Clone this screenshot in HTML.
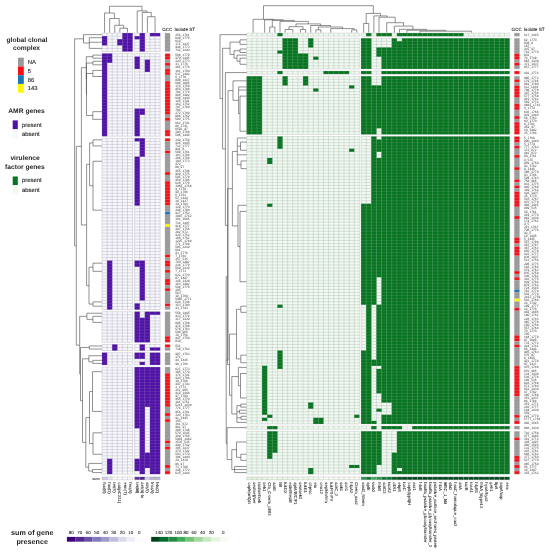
<!DOCTYPE html>
<html><head><meta charset="utf-8"><title>AMR and virulence factor gene heatmaps</title>
<style>html,body{margin:0;padding:0;background:#fff;}svg{display:block;filter:blur(0.3px);}</style></head>
<body>
<svg width="550" height="559" viewBox="0 0 550 559">
<style>
text{font-family:"Liberation Sans",Arial,Helvetica,sans-serif;text-rendering:geometricPrecision;}
.rl{font-size:32.5px;fill:#3c3c3c;}
.cl{font-size:42px;fill:#2a2a2a;stroke:#2a2a2a;stroke-width:0.5px;}
.hd{font-size:46px;fill:#222;stroke:#222;stroke-width:0.9px;}
.lt{font-size:67px;font-weight:bold;fill:#1e1e1e;text-anchor:middle;}
.li{font-size:59px;fill:#262626;stroke:#262626;stroke-width:1.2px;}
.sc{font-size:45px;fill:#2a2a2a;stroke:#2a2a2a;stroke-width:0.8px;text-anchor:middle;}
.dn{stroke:#484848;stroke-width:0.6;fill:none;}
</style>
<rect width="550" height="559" fill="#ffffff"/>
<rect x="102" y="33.1" width="30.6" height="18.35" fill="#f8f7fd"/>
<rect x="102" y="53.6" width="30.6" height="82.57" fill="#f8f7fd"/>
<rect x="102" y="138.31" width="30.6" height="171.25" fill="#f8f7fd"/>
<rect x="102" y="311.71" width="30.6" height="30.58" fill="#f8f7fd"/>
<rect x="102" y="344.44" width="30.6" height="6.12" fill="#f8f7fd"/>
<rect x="102" y="352.71" width="30.6" height="12.23" fill="#f8f7fd"/>
<rect x="102" y="367.09" width="30.6" height="107.03" fill="#f8f7fd"/>
<rect x="134.65" y="33.1" width="25.5" height="18.35" fill="#f8f7fd"/>
<rect x="134.65" y="53.6" width="25.5" height="82.57" fill="#f8f7fd"/>
<rect x="134.65" y="138.31" width="25.5" height="171.25" fill="#f8f7fd"/>
<rect x="134.65" y="311.71" width="25.5" height="30.58" fill="#f8f7fd"/>
<rect x="134.65" y="344.44" width="25.5" height="6.12" fill="#f8f7fd"/>
<rect x="134.65" y="352.71" width="25.5" height="12.23" fill="#f8f7fd"/>
<rect x="134.65" y="367.09" width="25.5" height="107.03" fill="#f8f7fd"/>
<rect x="102" y="36.16" width="5.1" height="9.17" fill="#5010a8"/>
<rect x="102" y="53.6" width="5.1" height="82.57" fill="#5010a8"/>
<rect x="102" y="352.71" width="5.1" height="12.23" fill="#5010a8"/>
<rect x="107.1" y="53.6" width="5.1" height="9.17" fill="#5010a8"/>
<rect x="107.1" y="260.63" width="5.1" height="48.93" fill="#5010a8"/>
<rect x="107.1" y="458.83" width="5.1" height="15.29" fill="#5010a8"/>
<rect x="112.2" y="344.44" width="5.1" height="6.12" fill="#5010a8"/>
<rect x="117.3" y="39.22" width="5.1" height="6.12" fill="#5010a8"/>
<rect x="122.4" y="33.1" width="5.1" height="18.35" fill="#5010a8"/>
<rect x="127.5" y="33.1" width="5.1" height="18.35" fill="#5010a8"/>
<rect x="134.65" y="36.16" width="5.1" height="3.06" fill="#5010a8"/>
<rect x="134.65" y="56.66" width="5.1" height="12.23" fill="#5010a8"/>
<rect x="134.65" y="108.64" width="5.1" height="27.52" fill="#5010a8"/>
<rect x="134.65" y="138.31" width="5.1" height="3.06" fill="#5010a8"/>
<rect x="134.65" y="156.66" width="5.1" height="48.93" fill="#5010a8"/>
<rect x="134.65" y="260.63" width="5.1" height="6.12" fill="#5010a8"/>
<rect x="134.65" y="303.45" width="5.1" height="6.12" fill="#5010a8"/>
<rect x="134.65" y="311.71" width="5.1" height="30.58" fill="#5010a8"/>
<rect x="134.65" y="352.71" width="5.1" height="6.12" fill="#5010a8"/>
<rect x="134.65" y="367.09" width="5.1" height="61.16" fill="#5010a8"/>
<rect x="134.65" y="458.83" width="5.1" height="12.23" fill="#5010a8"/>
<rect x="139.75" y="33.1" width="5.1" height="18.35" fill="#5010a8"/>
<rect x="139.75" y="108.64" width="5.1" height="6.12" fill="#5010a8"/>
<rect x="139.75" y="138.31" width="5.1" height="18.35" fill="#5010a8"/>
<rect x="139.75" y="260.63" width="5.1" height="39.75" fill="#5010a8"/>
<rect x="139.75" y="317.83" width="5.1" height="24.46" fill="#5010a8"/>
<rect x="139.75" y="344.44" width="5.1" height="6.12" fill="#5010a8"/>
<rect x="139.75" y="352.71" width="5.1" height="6.12" fill="#5010a8"/>
<rect x="139.75" y="361.88" width="5.1" height="3.06" fill="#5010a8"/>
<rect x="139.75" y="367.09" width="5.1" height="107.03" fill="#5010a8"/>
<rect x="144.85" y="59.71" width="5.1" height="12.23" fill="#5010a8"/>
<rect x="144.85" y="311.71" width="5.1" height="30.58" fill="#5010a8"/>
<rect x="144.85" y="367.09" width="5.1" height="39.75" fill="#5010a8"/>
<rect x="144.85" y="452.71" width="5.1" height="15.29" fill="#5010a8"/>
<rect x="149.95" y="33.1" width="5.1" height="3.06" fill="#5010a8"/>
<rect x="149.95" y="311.71" width="5.1" height="3.06" fill="#5010a8"/>
<rect x="149.95" y="347.5" width="5.1" height="3.06" fill="#5010a8"/>
<rect x="149.95" y="352.71" width="5.1" height="12.23" fill="#5010a8"/>
<rect x="149.95" y="367.09" width="5.1" height="107.03" fill="#5010a8"/>
<rect x="155.05" y="33.1" width="5.1" height="3.06" fill="#5010a8"/>
<rect x="155.05" y="311.71" width="5.1" height="3.06" fill="#5010a8"/>
<rect x="155.05" y="347.5" width="5.1" height="3.06" fill="#5010a8"/>
<rect x="155.05" y="352.71" width="5.1" height="12.23" fill="#5010a8"/>
<rect x="155.05" y="367.09" width="5.1" height="107.03" fill="#5010a8"/>
<path d="M102 33.1V51.45M107.1 33.1V51.45M112.2 33.1V51.45M117.3 33.1V51.45M122.4 33.1V51.45M127.5 33.1V51.45M132.6 33.1V51.45M102 33.1H132.6M102 36.16H132.6M102 39.22H132.6M102 42.27H132.6M102 45.33H132.6M102 48.39H132.6M102 51.45H132.6M102 53.6V136.16M107.1 53.6V136.16M112.2 53.6V136.16M117.3 53.6V136.16M122.4 53.6V136.16M127.5 53.6V136.16M132.6 53.6V136.16M102 53.6H132.6M102 56.66H132.6M102 59.71H132.6M102 62.77H132.6M102 65.83H132.6M102 68.89H132.6M102 71.95H132.6M102 75H132.6M102 78.06H132.6M102 81.12H132.6M102 84.18H132.6M102 87.24H132.6M102 90.29H132.6M102 93.35H132.6M102 96.41H132.6M102 99.47H132.6M102 102.53H132.6M102 105.58H132.6M102 108.64H132.6M102 111.7H132.6M102 114.76H132.6M102 117.82H132.6M102 120.87H132.6M102 123.93H132.6M102 126.99H132.6M102 130.05H132.6M102 133.11H132.6M102 136.16H132.6M102 138.31V309.56M107.1 138.31V309.56M112.2 138.31V309.56M117.3 138.31V309.56M122.4 138.31V309.56M127.5 138.31V309.56M132.6 138.31V309.56M102 138.31H132.6M102 141.37H132.6M102 144.43H132.6M102 147.49H132.6M102 150.55H132.6M102 153.6H132.6M102 156.66H132.6M102 159.72H132.6M102 162.78H132.6M102 165.84H132.6M102 168.89H132.6M102 171.95H132.6M102 175.01H132.6M102 178.07H132.6M102 181.13H132.6M102 184.18H132.6M102 187.24H132.6M102 190.3H132.6M102 193.36H132.6M102 196.42H132.6M102 199.47H132.6M102 202.53H132.6M102 205.59H132.6M102 208.65H132.6M102 211.71H132.6M102 214.76H132.6M102 217.82H132.6M102 220.88H132.6M102 223.94H132.6M102 227H132.6M102 230.05H132.6M102 233.11H132.6M102 236.17H132.6M102 239.23H132.6M102 242.29H132.6M102 245.34H132.6M102 248.4H132.6M102 251.46H132.6M102 254.52H132.6M102 257.58H132.6M102 260.63H132.6M102 263.69H132.6M102 266.75H132.6M102 269.81H132.6M102 272.87H132.6M102 275.92H132.6M102 278.98H132.6M102 282.04H132.6M102 285.1H132.6M102 288.16H132.6M102 291.21H132.6M102 294.27H132.6M102 297.33H132.6M102 300.39H132.6M102 303.45H132.6M102 306.5H132.6M102 309.56H132.6M102 311.71V342.29M107.1 311.71V342.29M112.2 311.71V342.29M117.3 311.71V342.29M122.4 311.71V342.29M127.5 311.71V342.29M132.6 311.71V342.29M102 311.71H132.6M102 314.77H132.6M102 317.83H132.6M102 320.89H132.6M102 323.94H132.6M102 327H132.6M102 330.06H132.6M102 333.12H132.6M102 336.18H132.6M102 339.23H132.6M102 342.29H132.6M102 344.44V350.56M107.1 344.44V350.56M112.2 344.44V350.56M117.3 344.44V350.56M122.4 344.44V350.56M127.5 344.44V350.56M132.6 344.44V350.56M102 344.44H132.6M102 347.5H132.6M102 350.56H132.6M102 352.71V364.94M107.1 352.71V364.94M112.2 352.71V364.94M117.3 352.71V364.94M122.4 352.71V364.94M127.5 352.71V364.94M132.6 352.71V364.94M102 352.71H132.6M102 355.77H132.6M102 358.82H132.6M102 361.88H132.6M102 364.94H132.6M102 367.09V474.12M107.1 367.09V474.12M112.2 367.09V474.12M117.3 367.09V474.12M122.4 367.09V474.12M127.5 367.09V474.12M132.6 367.09V474.12M102 367.09H132.6M102 370.15H132.6M102 373.21H132.6M102 376.26H132.6M102 379.32H132.6M102 382.38H132.6M102 385.44H132.6M102 388.5H132.6M102 391.55H132.6M102 394.61H132.6M102 397.67H132.6M102 400.73H132.6M102 403.79H132.6M102 406.84H132.6M102 409.9H132.6M102 412.96H132.6M102 416.02H132.6M102 419.08H132.6M102 422.13H132.6M102 425.19H132.6M102 428.25H132.6M102 431.31H132.6M102 434.37H132.6M102 437.42H132.6M102 440.48H132.6M102 443.54H132.6M102 446.6H132.6M102 449.66H132.6M102 452.71H132.6M102 455.77H132.6M102 458.83H132.6M102 461.89H132.6M102 464.95H132.6M102 468H132.6M102 471.06H132.6M102 474.12H132.6M134.65 33.1V51.45M139.75 33.1V51.45M144.85 33.1V51.45M149.95 33.1V51.45M155.05 33.1V51.45M160.15 33.1V51.45M134.65 33.1H160.15M134.65 36.16H160.15M134.65 39.22H160.15M134.65 42.27H160.15M134.65 45.33H160.15M134.65 48.39H160.15M134.65 51.45H160.15M134.65 53.6V136.16M139.75 53.6V136.16M144.85 53.6V136.16M149.95 53.6V136.16M155.05 53.6V136.16M160.15 53.6V136.16M134.65 53.6H160.15M134.65 56.66H160.15M134.65 59.71H160.15M134.65 62.77H160.15M134.65 65.83H160.15M134.65 68.89H160.15M134.65 71.95H160.15M134.65 75H160.15M134.65 78.06H160.15M134.65 81.12H160.15M134.65 84.18H160.15M134.65 87.24H160.15M134.65 90.29H160.15M134.65 93.35H160.15M134.65 96.41H160.15M134.65 99.47H160.15M134.65 102.53H160.15M134.65 105.58H160.15M134.65 108.64H160.15M134.65 111.7H160.15M134.65 114.76H160.15M134.65 117.82H160.15M134.65 120.87H160.15M134.65 123.93H160.15M134.65 126.99H160.15M134.65 130.05H160.15M134.65 133.11H160.15M134.65 136.16H160.15M134.65 138.31V309.56M139.75 138.31V309.56M144.85 138.31V309.56M149.95 138.31V309.56M155.05 138.31V309.56M160.15 138.31V309.56M134.65 138.31H160.15M134.65 141.37H160.15M134.65 144.43H160.15M134.65 147.49H160.15M134.65 150.55H160.15M134.65 153.6H160.15M134.65 156.66H160.15M134.65 159.72H160.15M134.65 162.78H160.15M134.65 165.84H160.15M134.65 168.89H160.15M134.65 171.95H160.15M134.65 175.01H160.15M134.65 178.07H160.15M134.65 181.13H160.15M134.65 184.18H160.15M134.65 187.24H160.15M134.65 190.3H160.15M134.65 193.36H160.15M134.65 196.42H160.15M134.65 199.47H160.15M134.65 202.53H160.15M134.65 205.59H160.15M134.65 208.65H160.15M134.65 211.71H160.15M134.65 214.76H160.15M134.65 217.82H160.15M134.65 220.88H160.15M134.65 223.94H160.15M134.65 227H160.15M134.65 230.05H160.15M134.65 233.11H160.15M134.65 236.17H160.15M134.65 239.23H160.15M134.65 242.29H160.15M134.65 245.34H160.15M134.65 248.4H160.15M134.65 251.46H160.15M134.65 254.52H160.15M134.65 257.58H160.15M134.65 260.63H160.15M134.65 263.69H160.15M134.65 266.75H160.15M134.65 269.81H160.15M134.65 272.87H160.15M134.65 275.92H160.15M134.65 278.98H160.15M134.65 282.04H160.15M134.65 285.1H160.15M134.65 288.16H160.15M134.65 291.21H160.15M134.65 294.27H160.15M134.65 297.33H160.15M134.65 300.39H160.15M134.65 303.45H160.15M134.65 306.5H160.15M134.65 309.56H160.15M134.65 311.71V342.29M139.75 311.71V342.29M144.85 311.71V342.29M149.95 311.71V342.29M155.05 311.71V342.29M160.15 311.71V342.29M134.65 311.71H160.15M134.65 314.77H160.15M134.65 317.83H160.15M134.65 320.89H160.15M134.65 323.94H160.15M134.65 327H160.15M134.65 330.06H160.15M134.65 333.12H160.15M134.65 336.18H160.15M134.65 339.23H160.15M134.65 342.29H160.15M134.65 344.44V350.56M139.75 344.44V350.56M144.85 344.44V350.56M149.95 344.44V350.56M155.05 344.44V350.56M160.15 344.44V350.56M134.65 344.44H160.15M134.65 347.5H160.15M134.65 350.56H160.15M134.65 352.71V364.94M139.75 352.71V364.94M144.85 352.71V364.94M149.95 352.71V364.94M155.05 352.71V364.94M160.15 352.71V364.94M134.65 352.71H160.15M134.65 355.77H160.15M134.65 358.82H160.15M134.65 361.88H160.15M134.65 364.94H160.15M134.65 367.09V474.12M139.75 367.09V474.12M144.85 367.09V474.12M149.95 367.09V474.12M155.05 367.09V474.12M160.15 367.09V474.12M134.65 367.09H160.15M134.65 370.15H160.15M134.65 373.21H160.15M134.65 376.26H160.15M134.65 379.32H160.15M134.65 382.38H160.15M134.65 385.44H160.15M134.65 388.5H160.15M134.65 391.55H160.15M134.65 394.61H160.15M134.65 397.67H160.15M134.65 400.73H160.15M134.65 403.79H160.15M134.65 406.84H160.15M134.65 409.9H160.15M134.65 412.96H160.15M134.65 416.02H160.15M134.65 419.08H160.15M134.65 422.13H160.15M134.65 425.19H160.15M134.65 428.25H160.15M134.65 431.31H160.15M134.65 434.37H160.15M134.65 437.42H160.15M134.65 440.48H160.15M134.65 443.54H160.15M134.65 446.6H160.15M134.65 449.66H160.15M134.65 452.71H160.15M134.65 455.77H160.15M134.65 458.83H160.15M134.65 461.89H160.15M134.65 464.95H160.15M134.65 468H160.15M134.65 471.06H160.15M134.65 474.12H160.15" stroke="#9b9aa8" stroke-width="0.33" fill="none"/>
<path d="M102 36.16h5.1v9.17h-5.1zM102 53.6h5.1v82.57h-5.1zM102 352.71h5.1v12.23h-5.1zM107.1 53.6h5.1v9.17h-5.1zM107.1 260.63h5.1v48.93h-5.1zM107.1 458.83h5.1v15.29h-5.1zM112.2 344.44h5.1v6.12h-5.1zM117.3 39.22h5.1v6.12h-5.1zM122.4 33.1h5.1v18.35h-5.1zM127.5 33.1h5.1v18.35h-5.1zM134.65 36.16h5.1v3.06h-5.1zM134.65 56.66h5.1v12.23h-5.1zM134.65 108.64h5.1v27.52h-5.1zM134.65 138.31h5.1v3.06h-5.1zM134.65 156.66h5.1v48.93h-5.1zM134.65 260.63h5.1v6.12h-5.1zM134.65 303.45h5.1v6.12h-5.1zM134.65 311.71h5.1v30.58h-5.1zM134.65 352.71h5.1v6.12h-5.1zM134.65 367.09h5.1v61.16h-5.1zM134.65 458.83h5.1v12.23h-5.1zM139.75 33.1h5.1v18.35h-5.1zM139.75 108.64h5.1v6.12h-5.1zM139.75 138.31h5.1v18.35h-5.1zM139.75 260.63h5.1v39.75h-5.1zM139.75 317.83h5.1v24.46h-5.1zM139.75 344.44h5.1v6.12h-5.1zM139.75 352.71h5.1v6.12h-5.1zM139.75 361.88h5.1v3.06h-5.1zM139.75 367.09h5.1v107.03h-5.1zM144.85 59.71h5.1v12.23h-5.1zM144.85 311.71h5.1v30.58h-5.1zM144.85 367.09h5.1v39.75h-5.1zM144.85 452.71h5.1v15.29h-5.1zM149.95 33.1h5.1v3.06h-5.1zM149.95 311.71h5.1v3.06h-5.1zM149.95 347.5h5.1v3.06h-5.1zM149.95 352.71h5.1v12.23h-5.1zM149.95 367.09h5.1v107.03h-5.1zM155.05 33.1h5.1v3.06h-5.1zM155.05 311.71h5.1v3.06h-5.1zM155.05 347.5h5.1v3.06h-5.1zM155.05 352.71h5.1v12.23h-5.1zM155.05 367.09h5.1v107.03h-5.1z" fill="#5010a8" fill-opacity="0.4"/>
<rect x="165" y="33.1" width="5.1" height="18.35" fill="#999999"/>
<rect x="165" y="53.6" width="5.1" height="6.12" fill="#fb0d12"/>
<rect x="165" y="59.71" width="5.1" height="3.06" fill="#999999"/>
<rect x="165" y="62.77" width="5.1" height="3.06" fill="#fb0d12"/>
<rect x="165" y="65.83" width="5.1" height="3.06" fill="#999999"/>
<rect x="165" y="68.89" width="5.1" height="6.12" fill="#fb0d12"/>
<rect x="165" y="75" width="5.1" height="6.12" fill="#999999"/>
<rect x="165" y="81.12" width="5.1" height="33.64" fill="#fb0d12"/>
<rect x="165" y="114.76" width="5.1" height="3.06" fill="#999999"/>
<rect x="165" y="117.82" width="5.1" height="3.06" fill="#fb0d12"/>
<rect x="165" y="120.87" width="5.1" height="9.17" fill="#999999"/>
<rect x="165" y="130.05" width="5.1" height="6.12" fill="#fb0d12"/>
<rect x="165" y="138.31" width="5.1" height="3.06" fill="#fb0d12"/>
<rect x="165" y="141.37" width="5.1" height="9.17" fill="#999999"/>
<rect x="165" y="150.55" width="5.1" height="3.06" fill="#fb0d12"/>
<rect x="165" y="153.6" width="5.1" height="18.35" fill="#999999"/>
<rect x="165" y="171.95" width="5.1" height="3.06" fill="#fb0d12"/>
<rect x="165" y="175.01" width="5.1" height="6.12" fill="#999999"/>
<rect x="165" y="181.13" width="5.1" height="24.46" fill="#fb0d12"/>
<rect x="165" y="205.59" width="5.1" height="6.12" fill="#999999"/>
<rect x="165" y="211.71" width="5.1" height="3.06" fill="#1b76ba"/>
<rect x="165" y="214.76" width="5.1" height="9.17" fill="#999999"/>
<rect x="165" y="223.94" width="5.1" height="3.06" fill="#fbf60a"/>
<rect x="165" y="227" width="5.1" height="27.52" fill="#999999"/>
<rect x="165" y="254.52" width="5.1" height="3.06" fill="#fb0d12"/>
<rect x="165" y="257.58" width="5.1" height="3.06" fill="#999999"/>
<rect x="165" y="260.63" width="5.1" height="6.12" fill="#fb0d12"/>
<rect x="165" y="266.75" width="5.1" height="3.06" fill="#999999"/>
<rect x="165" y="269.81" width="5.1" height="3.06" fill="#fb0d12"/>
<rect x="165" y="272.87" width="5.1" height="6.12" fill="#999999"/>
<rect x="165" y="278.98" width="5.1" height="6.12" fill="#fb0d12"/>
<rect x="165" y="285.1" width="5.1" height="3.06" fill="#999999"/>
<rect x="165" y="288.16" width="5.1" height="3.06" fill="#fb0d12"/>
<rect x="165" y="291.21" width="5.1" height="12.23" fill="#999999"/>
<rect x="165" y="303.45" width="5.1" height="3.06" fill="#fb0d12"/>
<rect x="165" y="306.5" width="5.1" height="3.06" fill="#999999"/>
<rect x="165" y="311.71" width="5.1" height="24.46" fill="#999999"/>
<rect x="165" y="336.18" width="5.1" height="6.12" fill="#fb0d12"/>
<rect x="165" y="344.44" width="5.1" height="3.06" fill="#fb0d12"/>
<rect x="165" y="347.5" width="5.1" height="3.06" fill="#999999"/>
<rect x="165" y="352.71" width="5.1" height="12.23" fill="#999999"/>
<rect x="165" y="367.09" width="5.1" height="6.12" fill="#999999"/>
<rect x="165" y="373.21" width="5.1" height="33.64" fill="#fb0d12"/>
<rect x="165" y="406.84" width="5.1" height="6.12" fill="#999999"/>
<rect x="165" y="412.96" width="5.1" height="3.06" fill="#fb0d12"/>
<rect x="165" y="416.02" width="5.1" height="3.06" fill="#999999"/>
<rect x="165" y="419.08" width="5.1" height="3.06" fill="#fb0d12"/>
<rect x="165" y="422.13" width="5.1" height="18.35" fill="#999999"/>
<rect x="165" y="440.48" width="5.1" height="3.06" fill="#fb0d12"/>
<rect x="165" y="443.54" width="5.1" height="3.06" fill="#999999"/>
<rect x="165" y="446.6" width="5.1" height="3.06" fill="#fb0d12"/>
<rect x="165" y="449.66" width="5.1" height="15.29" fill="#999999"/>
<rect x="165" y="464.95" width="5.1" height="3.06" fill="#fb0d12"/>
<rect x="165" y="468" width="5.1" height="3.06" fill="#999999"/>
<rect x="165" y="471.06" width="5.1" height="3.06" fill="#fb0d12"/>
<path d="M165 33.1H170.1M165 36.16H170.1M165 39.22H170.1M165 42.27H170.1M165 45.33H170.1M165 48.39H170.1M165 51.45H170.1M165 33.1V51.45M170.1 33.1V51.45M165 53.6H170.1M165 56.66H170.1M165 59.71H170.1M165 62.77H170.1M165 65.83H170.1M165 68.89H170.1M165 71.95H170.1M165 75H170.1M165 78.06H170.1M165 81.12H170.1M165 84.18H170.1M165 87.24H170.1M165 90.29H170.1M165 93.35H170.1M165 96.41H170.1M165 99.47H170.1M165 102.53H170.1M165 105.58H170.1M165 108.64H170.1M165 111.7H170.1M165 114.76H170.1M165 117.82H170.1M165 120.87H170.1M165 123.93H170.1M165 126.99H170.1M165 130.05H170.1M165 133.11H170.1M165 136.16H170.1M165 53.6V136.16M170.1 53.6V136.16M165 138.31H170.1M165 141.37H170.1M165 144.43H170.1M165 147.49H170.1M165 150.55H170.1M165 153.6H170.1M165 156.66H170.1M165 159.72H170.1M165 162.78H170.1M165 165.84H170.1M165 168.89H170.1M165 171.95H170.1M165 175.01H170.1M165 178.07H170.1M165 181.13H170.1M165 184.18H170.1M165 187.24H170.1M165 190.3H170.1M165 193.36H170.1M165 196.42H170.1M165 199.47H170.1M165 202.53H170.1M165 205.59H170.1M165 208.65H170.1M165 211.71H170.1M165 214.76H170.1M165 217.82H170.1M165 220.88H170.1M165 223.94H170.1M165 227H170.1M165 230.05H170.1M165 233.11H170.1M165 236.17H170.1M165 239.23H170.1M165 242.29H170.1M165 245.34H170.1M165 248.4H170.1M165 251.46H170.1M165 254.52H170.1M165 257.58H170.1M165 260.63H170.1M165 263.69H170.1M165 266.75H170.1M165 269.81H170.1M165 272.87H170.1M165 275.92H170.1M165 278.98H170.1M165 282.04H170.1M165 285.1H170.1M165 288.16H170.1M165 291.21H170.1M165 294.27H170.1M165 297.33H170.1M165 300.39H170.1M165 303.45H170.1M165 306.5H170.1M165 309.56H170.1M165 138.31V309.56M170.1 138.31V309.56M165 311.71H170.1M165 314.77H170.1M165 317.83H170.1M165 320.89H170.1M165 323.94H170.1M165 327H170.1M165 330.06H170.1M165 333.12H170.1M165 336.18H170.1M165 339.23H170.1M165 342.29H170.1M165 311.71V342.29M170.1 311.71V342.29M165 344.44H170.1M165 347.5H170.1M165 350.56H170.1M165 344.44V350.56M170.1 344.44V350.56M165 352.71H170.1M165 355.77H170.1M165 358.82H170.1M165 361.88H170.1M165 364.94H170.1M165 352.71V364.94M170.1 352.71V364.94M165 367.09H170.1M165 370.15H170.1M165 373.21H170.1M165 376.26H170.1M165 379.32H170.1M165 382.38H170.1M165 385.44H170.1M165 388.5H170.1M165 391.55H170.1M165 394.61H170.1M165 397.67H170.1M165 400.73H170.1M165 403.79H170.1M165 406.84H170.1M165 409.9H170.1M165 412.96H170.1M165 416.02H170.1M165 419.08H170.1M165 422.13H170.1M165 425.19H170.1M165 428.25H170.1M165 431.31H170.1M165 434.37H170.1M165 437.42H170.1M165 440.48H170.1M165 443.54H170.1M165 446.6H170.1M165 449.66H170.1M165 452.71H170.1M165 455.77H170.1M165 458.83H170.1M165 461.89H170.1M165 464.95H170.1M165 468H170.1M165 471.06H170.1M165 474.12H170.1M165 367.09V474.12M170.1 367.09V474.12" stroke="#b5b5b5" stroke-width="0.33" fill="none"/>
<text class="rl" transform="translate(175.2 35.73) scale(0.1)">254_1761</text>
<text class="rl" transform="translate(175.2 38.79) scale(0.1)">648_1776</text>
<text class="rl" transform="translate(175.2 41.85) scale(0.1)">619_</text>
<text class="rl" transform="translate(175.2 44.9) scale(0.1)">171_1437</text>
<text class="rl" transform="translate(175.2 47.96) scale(0.1)">946_1773</text>
<text class="rl" transform="translate(175.2 51.02) scale(0.1)">742_1440</text>
<text class="rl" transform="translate(175.2 56.23) scale(0.1)">506_1779</text>
<text class="rl" transform="translate(175.2 59.29) scale(0.1)">979_1445</text>
<text class="rl" transform="translate(175.2 62.34) scale(0.1)">220_1773</text>
<text class="rl" transform="translate(175.2 65.4) scale(0.1)">33_1776</text>
<text class="rl" transform="translate(175.2 68.46) scale(0.1)">481_1776</text>
<text class="rl" transform="translate(175.2 71.52) scale(0.1)">161_1760</text>
<text class="rl" transform="translate(175.2 74.57) scale(0.1)">537_1482</text>
<text class="rl" transform="translate(175.2 77.63) scale(0.1)">6_1778</text>
<text class="rl" transform="translate(175.2 80.69) scale(0.1)">898_1437</text>
<text class="rl" transform="translate(175.2 83.75) scale(0.1)">606_1685</text>
<text class="rl" transform="translate(175.2 86.81) scale(0.1)">174_1758</text>
<text class="rl" transform="translate(175.2 89.86) scale(0.1)">450_1768</text>
<text class="rl" transform="translate(175.2 92.92) scale(0.1)">784_1774</text>
<text class="rl" transform="translate(175.2 95.98) scale(0.1)">996_1482</text>
<text class="rl" transform="translate(175.2 99.04) scale(0.1)">608_1440</text>
<text class="rl" transform="translate(175.2 102.1) scale(0.1)">195_1741</text>
<text class="rl" transform="translate(175.2 105.15) scale(0.1)">162_1752</text>
<text class="rl" transform="translate(175.2 108.21) scale(0.1)">797_1769</text>
<text class="rl" transform="translate(175.2 111.27) scale(0.1)">784_</text>
<text class="rl" transform="translate(175.2 114.33) scale(0.1)">272_1760</text>
<text class="rl" transform="translate(175.2 117.39) scale(0.1)">886_1762</text>
<text class="rl" transform="translate(175.2 120.44) scale(0.1)">500_1775</text>
<text class="rl" transform="translate(175.2 123.5) scale(0.1)">662_1741</text>
<text class="rl" transform="translate(175.2 126.56) scale(0.1)">80_1741</text>
<text class="rl" transform="translate(175.2 129.62) scale(0.1)">6592_97</text>
<text class="rl" transform="translate(175.2 132.68) scale(0.1)">280_1768</text>
<text class="rl" transform="translate(175.2 135.73) scale(0.1)">596_1440</text>
<text class="rl" transform="translate(175.2 140.94) scale(0.1)">249_1759</text>
<text class="rl" transform="translate(175.2 144) scale(0.1)">426_1445</text>
<text class="rl" transform="translate(175.2 147.06) scale(0.1)">732_1777</text>
<text class="rl" transform="translate(175.2 150.12) scale(0.1)">991_8</text>
<text class="rl" transform="translate(175.2 153.18) scale(0.1)">508_1761</text>
<text class="rl" transform="translate(175.2 156.23) scale(0.1)">163_1764</text>
<text class="rl" transform="translate(175.2 159.29) scale(0.1)">266_1758</text>
<text class="rl" transform="translate(175.2 162.35) scale(0.1)">100_1773</text>
<text class="rl" transform="translate(175.2 165.41) scale(0.1)">472_</text>
<text class="rl" transform="translate(175.2 168.47) scale(0.1)">88_97</text>
<text class="rl" transform="translate(175.2 171.52) scale(0.1)">455_1746</text>
<text class="rl" transform="translate(175.2 174.58) scale(0.1)">969_1775</text>
<text class="rl" transform="translate(175.2 177.64) scale(0.1)">595_1778</text>
<text class="rl" transform="translate(175.2 180.7) scale(0.1)">450_1766</text>
<text class="rl" transform="translate(175.2 183.76) scale(0.1)">628_1770</text>
<text class="rl" transform="translate(175.2 186.81) scale(0.1)">3963_1768</text>
<text class="rl" transform="translate(175.2 189.87) scale(0.1)">9_1778</text>
<text class="rl" transform="translate(175.2 192.93) scale(0.1)">99_1766</text>
<text class="rl" transform="translate(175.2 195.99) scale(0.1)">6_1763</text>
<text class="rl" transform="translate(175.2 199.05) scale(0.1)">52_1444</text>
<text class="rl" transform="translate(175.2 202.1) scale(0.1)">34_1437</text>
<text class="rl" transform="translate(175.2 205.16) scale(0.1)">39_1764</text>
<text class="rl" transform="translate(175.2 208.22) scale(0.1)">129_1770</text>
<text class="rl" transform="translate(175.2 211.28) scale(0.1)">298_1780</text>
<text class="rl" transform="translate(175.2 214.34) scale(0.1)">927_1752</text>
<text class="rl" transform="translate(175.2 217.39) scale(0.1)">3987_1742</text>
<text class="rl" transform="translate(175.2 220.45) scale(0.1)">301_1685</text>
<text class="rl" transform="translate(175.2 223.51) scale(0.1)">724_1497</text>
<text class="rl" transform="translate(175.2 226.57) scale(0.1)">918_1777</text>
<text class="rl" transform="translate(175.2 229.62) scale(0.1)">497_1756</text>
<text class="rl" transform="translate(175.2 232.68) scale(0.1)">282_672</text>
<text class="rl" transform="translate(175.2 235.74) scale(0.1)">920_1752</text>
<text class="rl" transform="translate(175.2 238.8) scale(0.1)">186_1752</text>
<text class="rl" transform="translate(175.2 241.86) scale(0.1)">1225_1768</text>
<text class="rl" transform="translate(175.2 244.91) scale(0.1)">771_1768</text>
<text class="rl" transform="translate(175.2 247.97) scale(0.1)">585_1439</text>
<text class="rl" transform="translate(175.2 251.03) scale(0.1)">661_</text>
<text class="rl" transform="translate(175.2 254.09) scale(0.1)">93_1776</text>
<text class="rl" transform="translate(175.2 257.15) scale(0.1)">7_1764</text>
<text class="rl" transform="translate(175.2 260.21) scale(0.1)">357_535</text>
<text class="rl" transform="translate(175.2 263.26) scale(0.1)">700_1482</text>
<text class="rl" transform="translate(175.2 266.32) scale(0.1)">234_1779</text>
<text class="rl" transform="translate(175.2 269.38) scale(0.1)">569_1439</text>
<text class="rl" transform="translate(175.2 272.44) scale(0.1)">7_1771</text>
<text class="rl" transform="translate(175.2 275.5) scale(0.1)">622_1770</text>
<text class="rl" transform="translate(175.2 278.55) scale(0.1)">87_1497</text>
<text class="rl" transform="translate(175.2 281.61) scale(0.1)">244_1438</text>
<text class="rl" transform="translate(175.2 284.67) scale(0.1)">163_1482</text>
<text class="rl" transform="translate(175.2 287.73) scale(0.1)">594_1776</text>
<text class="rl" transform="translate(175.2 290.79) scale(0.1)">295_</text>
<text class="rl" transform="translate(175.2 293.84) scale(0.1)">563_</text>
<text class="rl" transform="translate(175.2 296.9) scale(0.1)">18_1769</text>
<text class="rl" transform="translate(175.2 299.96) scale(0.1)">5965_1771</text>
<text class="rl" transform="translate(175.2 303.02) scale(0.1)">620_1748</text>
<text class="rl" transform="translate(175.2 306.08) scale(0.1)">353_1780</text>
<text class="rl" transform="translate(175.2 309.13) scale(0.1)">43_1743</text>
<text class="rl" transform="translate(175.2 314.34) scale(0.1)">558_1445</text>
<text class="rl" transform="translate(175.2 317.4) scale(0.1)">423_1774</text>
<text class="rl" transform="translate(175.2 320.46) scale(0.1)">317_1439</text>
<text class="rl" transform="translate(175.2 323.51) scale(0.1)">895_1768</text>
<text class="rl" transform="translate(175.2 326.57) scale(0.1)">474_1768</text>
<text class="rl" transform="translate(175.2 329.63) scale(0.1)">578_1763</text>
<text class="rl" transform="translate(175.2 332.69) scale(0.1)">598_965</text>
<text class="rl" transform="translate(175.2 335.75) scale(0.1)">30_1756</text>
<text class="rl" transform="translate(175.2 338.81) scale(0.1)">447_1759</text>
<text class="rl" transform="translate(175.2 341.86) scale(0.1)">839_</text>
<text class="rl" transform="translate(175.2 347.07) scale(0.1)">551_</text>
<text class="rl" transform="translate(175.2 350.13) scale(0.1)">738_1762</text>
<text class="rl" transform="translate(175.2 355.34) scale(0.1)">907_1763</text>
<text class="rl" transform="translate(175.2 358.4) scale(0.1)">371_</text>
<text class="rl" transform="translate(175.2 361.45) scale(0.1)">44_1445</text>
<text class="rl" transform="translate(175.2 364.51) scale(0.1)">96_1766</text>
<text class="rl" transform="translate(175.2 369.72) scale(0.1)">627_1773</text>
<text class="rl" transform="translate(175.2 372.78) scale(0.1)">385_1779</text>
<text class="rl" transform="translate(175.2 375.84) scale(0.1)">174_1741</text>
<text class="rl" transform="translate(175.2 378.89) scale(0.1)">920_1766</text>
<text class="rl" transform="translate(175.2 381.95) scale(0.1)">18_1766</text>
<text class="rl" transform="translate(175.2 385.01) scale(0.1)">447_1743</text>
<text class="rl" transform="translate(175.2 388.07) scale(0.1)">3_1772</text>
<text class="rl" transform="translate(175.2 391.13) scale(0.1)">212_965</text>
<text class="rl" transform="translate(175.2 394.18) scale(0.1)">419_1444</text>
<text class="rl" transform="translate(175.2 397.24) scale(0.1)">47_1769</text>
<text class="rl" transform="translate(175.2 400.3) scale(0.1)">455_1770</text>
<text class="rl" transform="translate(175.2 403.36) scale(0.1)">118_1752</text>
<text class="rl" transform="translate(175.2 406.42) scale(0.1)">5212_1438</text>
<text class="rl" transform="translate(175.2 409.47) scale(0.1)">774_1777</text>
<text class="rl" transform="translate(175.2 412.53) scale(0.1)">954_1761</text>
<text class="rl" transform="translate(175.2 415.59) scale(0.1)">320_1763</text>
<text class="rl" transform="translate(175.2 418.65) scale(0.1)">91_1445</text>
<text class="rl" transform="translate(175.2 421.71) scale(0.1)">155_</text>
<text class="rl" transform="translate(175.2 424.76) scale(0.1)">361_672</text>
<text class="rl" transform="translate(175.2 427.82) scale(0.1)">961_97</text>
<text class="rl" transform="translate(175.2 430.88) scale(0.1)">388_1746</text>
<text class="rl" transform="translate(175.2 433.94) scale(0.1)">570_1545</text>
<text class="rl" transform="translate(175.2 437) scale(0.1)">369_1765</text>
<text class="rl" transform="translate(175.2 440.05) scale(0.1)">5481_1482</text>
<text class="rl" transform="translate(175.2 443.11) scale(0.1)">3535_535</text>
<text class="rl" transform="translate(175.2 446.17) scale(0.1)">490_1742</text>
<text class="rl" transform="translate(175.2 449.23) scale(0.1)">305_1437</text>
<text class="rl" transform="translate(175.2 452.29) scale(0.1)">370_1742</text>
<text class="rl" transform="translate(175.2 455.34) scale(0.1)">503_1770</text>
<text class="rl" transform="translate(175.2 458.4) scale(0.1)">186_1440</text>
<text class="rl" transform="translate(175.2 461.46) scale(0.1)">29_1439</text>
<text class="rl" transform="translate(175.2 464.52) scale(0.1)">86_97</text>
<text class="rl" transform="translate(175.2 467.58) scale(0.1)">73_1768</text>
<text class="rl" transform="translate(175.2 470.63) scale(0.1)">248_1772</text>
<text class="rl" transform="translate(175.2 473.69) scale(0.1)">625_1444</text>
<rect x="246.7" y="33.1" width="112.68" height="3.06" fill="#effbf0"/>
<rect x="246.7" y="38.31" width="112.68" height="30.58" fill="#effbf0"/>
<rect x="246.7" y="71.04" width="112.68" height="3.06" fill="#effbf0"/>
<rect x="246.7" y="76.25" width="112.68" height="58.1" fill="#effbf0"/>
<rect x="246.7" y="136.5" width="112.68" height="287.45" fill="#effbf0"/>
<rect x="246.7" y="426.1" width="112.68" height="3.06" fill="#effbf0"/>
<rect x="246.7" y="431.31" width="112.68" height="42.81" fill="#effbf0"/>
<rect x="361.07" y="33.1" width="148.53" height="3.06" fill="#effbf0"/>
<rect x="361.07" y="38.31" width="148.53" height="30.58" fill="#effbf0"/>
<rect x="361.07" y="71.04" width="148.53" height="3.06" fill="#effbf0"/>
<rect x="361.07" y="76.25" width="148.53" height="58.1" fill="#effbf0"/>
<rect x="361.07" y="136.5" width="148.53" height="287.45" fill="#effbf0"/>
<rect x="361.07" y="426.1" width="148.53" height="3.06" fill="#effbf0"/>
<rect x="361.07" y="431.31" width="148.53" height="42.81" fill="#effbf0"/>
<rect x="246.7" y="76.25" width="5.12" height="58.1" fill="#04761f"/>
<rect x="251.82" y="76.25" width="5.12" height="58.1" fill="#04761f"/>
<rect x="256.94" y="76.25" width="5.12" height="58.1" fill="#04761f"/>
<rect x="262.06" y="365.85" width="5.12" height="48.93" fill="#04761f"/>
<rect x="262.06" y="417.83" width="5.12" height="3.06" fill="#04761f"/>
<rect x="267.19" y="157.9" width="5.12" height="6.12" fill="#04761f"/>
<rect x="267.19" y="203.77" width="5.12" height="3.06" fill="#04761f"/>
<rect x="267.19" y="414.78" width="5.12" height="3.06" fill="#04761f"/>
<rect x="267.19" y="426.1" width="5.12" height="3.06" fill="#04761f"/>
<rect x="267.19" y="431.31" width="5.12" height="27.52" fill="#04761f"/>
<rect x="272.31" y="426.1" width="5.12" height="3.06" fill="#04761f"/>
<rect x="272.31" y="431.31" width="5.12" height="21.41" fill="#04761f"/>
<rect x="277.43" y="33.1" width="5.12" height="3.06" fill="#04761f"/>
<rect x="277.43" y="50.54" width="5.12" height="3.06" fill="#04761f"/>
<rect x="277.43" y="71.04" width="5.12" height="3.06" fill="#04761f"/>
<rect x="277.43" y="136.5" width="5.12" height="12.23" fill="#04761f"/>
<rect x="277.43" y="304.69" width="5.12" height="3.06" fill="#04761f"/>
<rect x="277.43" y="350.56" width="5.12" height="18.35" fill="#04761f"/>
<rect x="282.55" y="38.31" width="5.12" height="30.58" fill="#04761f"/>
<rect x="282.55" y="76.25" width="5.12" height="9.17" fill="#04761f"/>
<rect x="287.67" y="38.31" width="5.12" height="30.58" fill="#04761f"/>
<rect x="292.79" y="38.31" width="5.12" height="30.58" fill="#04761f"/>
<rect x="297.92" y="53.6" width="5.12" height="15.29" fill="#04761f"/>
<rect x="303.04" y="53.6" width="5.12" height="15.29" fill="#04761f"/>
<rect x="303.04" y="76.25" width="5.12" height="9.17" fill="#04761f"/>
<rect x="308.16" y="38.31" width="5.12" height="9.17" fill="#04761f"/>
<rect x="308.16" y="402.54" width="5.12" height="6.12" fill="#04761f"/>
<rect x="308.16" y="468" width="5.12" height="6.12" fill="#04761f"/>
<rect x="313.28" y="56.66" width="5.12" height="3.06" fill="#04761f"/>
<rect x="313.28" y="88.48" width="5.12" height="3.06" fill="#04761f"/>
<rect x="313.28" y="417.83" width="5.12" height="6.12" fill="#04761f"/>
<rect x="318.4" y="417.83" width="5.12" height="6.12" fill="#04761f"/>
<rect x="323.52" y="71.04" width="5.12" height="3.06" fill="#04761f"/>
<rect x="328.65" y="71.04" width="5.12" height="3.06" fill="#04761f"/>
<rect x="333.77" y="71.04" width="5.12" height="3.06" fill="#04761f"/>
<rect x="338.89" y="71.04" width="5.12" height="3.06" fill="#04761f"/>
<rect x="344.01" y="71.04" width="5.12" height="3.06" fill="#04761f"/>
<rect x="349.13" y="85.42" width="5.12" height="3.06" fill="#04761f"/>
<rect x="349.13" y="148.73" width="5.12" height="3.06" fill="#04761f"/>
<rect x="349.13" y="464.95" width="5.12" height="3.06" fill="#04761f"/>
<rect x="354.25" y="414.78" width="5.12" height="3.06" fill="#04761f"/>
<rect x="354.25" y="464.95" width="5.12" height="3.06" fill="#04761f"/>
<rect x="361.07" y="38.31" width="5.12" height="30.58" fill="#04761f"/>
<rect x="361.07" y="71.04" width="5.12" height="3.06" fill="#04761f"/>
<rect x="361.07" y="76.25" width="5.12" height="58.1" fill="#04761f"/>
<rect x="361.07" y="203.77" width="5.12" height="100.91" fill="#04761f"/>
<rect x="361.07" y="350.56" width="5.12" height="73.39" fill="#04761f"/>
<rect x="361.07" y="431.31" width="5.12" height="42.81" fill="#04761f"/>
<rect x="366.19" y="33.1" width="5.12" height="3.06" fill="#04761f"/>
<rect x="366.19" y="38.31" width="5.12" height="30.58" fill="#04761f"/>
<rect x="366.19" y="71.04" width="5.12" height="3.06" fill="#04761f"/>
<rect x="366.19" y="76.25" width="5.12" height="58.1" fill="#04761f"/>
<rect x="366.19" y="203.77" width="5.12" height="220.18" fill="#04761f"/>
<rect x="366.19" y="431.31" width="5.12" height="42.81" fill="#04761f"/>
<rect x="371.31" y="85.42" width="5.12" height="48.93" fill="#04761f"/>
<rect x="371.31" y="136.5" width="5.12" height="168.19" fill="#04761f"/>
<rect x="371.31" y="359.73" width="5.12" height="6.12" fill="#04761f"/>
<rect x="371.31" y="420.89" width="5.12" height="3.06" fill="#04761f"/>
<rect x="371.31" y="426.1" width="5.12" height="3.06" fill="#04761f"/>
<rect x="371.31" y="431.31" width="5.12" height="42.81" fill="#04761f"/>
<rect x="376.43" y="33.1" width="5.12" height="3.06" fill="#04761f"/>
<rect x="376.43" y="47.48" width="5.12" height="9.17" fill="#04761f"/>
<rect x="376.43" y="85.42" width="5.12" height="42.81" fill="#04761f"/>
<rect x="376.43" y="139.56" width="5.12" height="12.23" fill="#04761f"/>
<rect x="376.43" y="157.9" width="5.12" height="119.26" fill="#04761f"/>
<rect x="376.43" y="304.69" width="5.12" height="61.16" fill="#04761f"/>
<rect x="376.43" y="368.91" width="5.12" height="24.46" fill="#04761f"/>
<rect x="376.43" y="408.66" width="5.12" height="3.06" fill="#04761f"/>
<rect x="376.43" y="431.31" width="5.12" height="33.64" fill="#04761f"/>
<rect x="381.56" y="33.1" width="5.12" height="3.06" fill="#04761f"/>
<rect x="381.56" y="47.48" width="5.12" height="21.41" fill="#04761f"/>
<rect x="381.56" y="71.04" width="5.12" height="3.06" fill="#04761f"/>
<rect x="381.56" y="76.25" width="5.12" height="58.1" fill="#04761f"/>
<rect x="381.56" y="136.5" width="5.12" height="266.05" fill="#04761f"/>
<rect x="381.56" y="414.78" width="5.12" height="9.17" fill="#04761f"/>
<rect x="381.56" y="426.1" width="5.12" height="3.06" fill="#04761f"/>
<rect x="386.68" y="33.1" width="5.12" height="3.06" fill="#04761f"/>
<rect x="386.68" y="47.48" width="5.12" height="21.41" fill="#04761f"/>
<rect x="386.68" y="71.04" width="5.12" height="3.06" fill="#04761f"/>
<rect x="386.68" y="76.25" width="5.12" height="58.1" fill="#04761f"/>
<rect x="386.68" y="136.5" width="5.12" height="266.05" fill="#04761f"/>
<rect x="386.68" y="414.78" width="5.12" height="9.17" fill="#04761f"/>
<rect x="386.68" y="426.1" width="5.12" height="3.06" fill="#04761f"/>
<rect x="391.8" y="38.31" width="5.12" height="30.58" fill="#04761f"/>
<rect x="391.8" y="71.04" width="5.12" height="3.06" fill="#04761f"/>
<rect x="391.8" y="76.25" width="5.12" height="58.1" fill="#04761f"/>
<rect x="391.8" y="136.5" width="5.12" height="287.45" fill="#04761f"/>
<rect x="391.8" y="426.1" width="5.12" height="3.06" fill="#04761f"/>
<rect x="391.8" y="452.71" width="5.12" height="21.41" fill="#04761f"/>
<rect x="396.92" y="33.1" width="5.12" height="3.06" fill="#04761f"/>
<rect x="396.92" y="41.37" width="5.12" height="27.52" fill="#04761f"/>
<rect x="396.92" y="71.04" width="5.12" height="3.06" fill="#04761f"/>
<rect x="396.92" y="76.25" width="5.12" height="58.1" fill="#04761f"/>
<rect x="396.92" y="136.5" width="5.12" height="287.45" fill="#04761f"/>
<rect x="396.92" y="426.1" width="5.12" height="3.06" fill="#04761f"/>
<rect x="396.92" y="431.31" width="5.12" height="36.7" fill="#04761f"/>
<rect x="396.92" y="471.06" width="5.12" height="3.06" fill="#04761f"/>
<rect x="402.04" y="33.1" width="5.12" height="3.06" fill="#04761f"/>
<rect x="402.04" y="38.31" width="5.12" height="30.58" fill="#04761f"/>
<rect x="402.04" y="71.04" width="5.12" height="3.06" fill="#04761f"/>
<rect x="402.04" y="76.25" width="5.12" height="58.1" fill="#04761f"/>
<rect x="402.04" y="136.5" width="5.12" height="287.45" fill="#04761f"/>
<rect x="402.04" y="431.31" width="5.12" height="42.81" fill="#04761f"/>
<rect x="407.16" y="33.1" width="5.12" height="3.06" fill="#04761f"/>
<rect x="407.16" y="38.31" width="5.12" height="30.58" fill="#04761f"/>
<rect x="407.16" y="71.04" width="5.12" height="3.06" fill="#04761f"/>
<rect x="407.16" y="76.25" width="5.12" height="58.1" fill="#04761f"/>
<rect x="407.16" y="136.5" width="5.12" height="287.45" fill="#04761f"/>
<rect x="407.16" y="431.31" width="5.12" height="42.81" fill="#04761f"/>
<rect x="412.29" y="33.1" width="5.12" height="3.06" fill="#04761f"/>
<rect x="412.29" y="38.31" width="5.12" height="30.58" fill="#04761f"/>
<rect x="412.29" y="71.04" width="5.12" height="3.06" fill="#04761f"/>
<rect x="412.29" y="76.25" width="5.12" height="58.1" fill="#04761f"/>
<rect x="412.29" y="136.5" width="5.12" height="287.45" fill="#04761f"/>
<rect x="412.29" y="426.1" width="5.12" height="3.06" fill="#04761f"/>
<rect x="412.29" y="431.31" width="5.12" height="42.81" fill="#04761f"/>
<rect x="417.41" y="33.1" width="5.12" height="3.06" fill="#04761f"/>
<rect x="417.41" y="38.31" width="5.12" height="30.58" fill="#04761f"/>
<rect x="417.41" y="71.04" width="5.12" height="3.06" fill="#04761f"/>
<rect x="417.41" y="76.25" width="5.12" height="58.1" fill="#04761f"/>
<rect x="417.41" y="136.5" width="5.12" height="287.45" fill="#04761f"/>
<rect x="417.41" y="426.1" width="5.12" height="3.06" fill="#04761f"/>
<rect x="417.41" y="431.31" width="5.12" height="42.81" fill="#04761f"/>
<rect x="422.53" y="33.1" width="5.12" height="3.06" fill="#04761f"/>
<rect x="422.53" y="38.31" width="5.12" height="30.58" fill="#04761f"/>
<rect x="422.53" y="71.04" width="5.12" height="3.06" fill="#04761f"/>
<rect x="422.53" y="76.25" width="5.12" height="58.1" fill="#04761f"/>
<rect x="422.53" y="136.5" width="5.12" height="287.45" fill="#04761f"/>
<rect x="422.53" y="426.1" width="5.12" height="3.06" fill="#04761f"/>
<rect x="422.53" y="431.31" width="5.12" height="42.81" fill="#04761f"/>
<rect x="427.65" y="33.1" width="5.12" height="3.06" fill="#04761f"/>
<rect x="427.65" y="38.31" width="5.12" height="30.58" fill="#04761f"/>
<rect x="427.65" y="71.04" width="5.12" height="3.06" fill="#04761f"/>
<rect x="427.65" y="76.25" width="5.12" height="58.1" fill="#04761f"/>
<rect x="427.65" y="136.5" width="5.12" height="287.45" fill="#04761f"/>
<rect x="427.65" y="426.1" width="5.12" height="3.06" fill="#04761f"/>
<rect x="427.65" y="431.31" width="5.12" height="42.81" fill="#04761f"/>
<rect x="432.77" y="33.1" width="5.12" height="3.06" fill="#04761f"/>
<rect x="432.77" y="38.31" width="5.12" height="30.58" fill="#04761f"/>
<rect x="432.77" y="71.04" width="5.12" height="3.06" fill="#04761f"/>
<rect x="432.77" y="76.25" width="5.12" height="58.1" fill="#04761f"/>
<rect x="432.77" y="136.5" width="5.12" height="287.45" fill="#04761f"/>
<rect x="432.77" y="426.1" width="5.12" height="3.06" fill="#04761f"/>
<rect x="432.77" y="431.31" width="5.12" height="42.81" fill="#04761f"/>
<rect x="437.89" y="33.1" width="5.12" height="3.06" fill="#04761f"/>
<rect x="437.89" y="38.31" width="5.12" height="30.58" fill="#04761f"/>
<rect x="437.89" y="71.04" width="5.12" height="3.06" fill="#04761f"/>
<rect x="437.89" y="76.25" width="5.12" height="58.1" fill="#04761f"/>
<rect x="437.89" y="136.5" width="5.12" height="287.45" fill="#04761f"/>
<rect x="437.89" y="426.1" width="5.12" height="3.06" fill="#04761f"/>
<rect x="437.89" y="431.31" width="5.12" height="42.81" fill="#04761f"/>
<rect x="443.02" y="33.1" width="5.12" height="3.06" fill="#04761f"/>
<rect x="443.02" y="38.31" width="5.12" height="30.58" fill="#04761f"/>
<rect x="443.02" y="71.04" width="5.12" height="3.06" fill="#04761f"/>
<rect x="443.02" y="76.25" width="5.12" height="58.1" fill="#04761f"/>
<rect x="443.02" y="136.5" width="5.12" height="287.45" fill="#04761f"/>
<rect x="443.02" y="426.1" width="5.12" height="3.06" fill="#04761f"/>
<rect x="443.02" y="431.31" width="5.12" height="42.81" fill="#04761f"/>
<rect x="448.14" y="33.1" width="5.12" height="3.06" fill="#04761f"/>
<rect x="448.14" y="38.31" width="5.12" height="30.58" fill="#04761f"/>
<rect x="448.14" y="71.04" width="5.12" height="3.06" fill="#04761f"/>
<rect x="448.14" y="76.25" width="5.12" height="58.1" fill="#04761f"/>
<rect x="448.14" y="136.5" width="5.12" height="287.45" fill="#04761f"/>
<rect x="448.14" y="426.1" width="5.12" height="3.06" fill="#04761f"/>
<rect x="448.14" y="431.31" width="5.12" height="42.81" fill="#04761f"/>
<rect x="453.26" y="33.1" width="5.12" height="3.06" fill="#04761f"/>
<rect x="453.26" y="38.31" width="5.12" height="30.58" fill="#04761f"/>
<rect x="453.26" y="71.04" width="5.12" height="3.06" fill="#04761f"/>
<rect x="453.26" y="76.25" width="5.12" height="58.1" fill="#04761f"/>
<rect x="453.26" y="136.5" width="5.12" height="287.45" fill="#04761f"/>
<rect x="453.26" y="426.1" width="5.12" height="3.06" fill="#04761f"/>
<rect x="453.26" y="431.31" width="5.12" height="42.81" fill="#04761f"/>
<rect x="458.38" y="33.1" width="5.12" height="3.06" fill="#04761f"/>
<rect x="458.38" y="38.31" width="5.12" height="30.58" fill="#04761f"/>
<rect x="458.38" y="71.04" width="5.12" height="3.06" fill="#04761f"/>
<rect x="458.38" y="76.25" width="5.12" height="58.1" fill="#04761f"/>
<rect x="458.38" y="136.5" width="5.12" height="287.45" fill="#04761f"/>
<rect x="458.38" y="426.1" width="5.12" height="3.06" fill="#04761f"/>
<rect x="458.38" y="431.31" width="5.12" height="42.81" fill="#04761f"/>
<rect x="463.5" y="38.31" width="5.12" height="30.58" fill="#04761f"/>
<rect x="463.5" y="71.04" width="5.12" height="3.06" fill="#04761f"/>
<rect x="463.5" y="76.25" width="5.12" height="58.1" fill="#04761f"/>
<rect x="463.5" y="136.5" width="5.12" height="287.45" fill="#04761f"/>
<rect x="463.5" y="426.1" width="5.12" height="3.06" fill="#04761f"/>
<rect x="463.5" y="431.31" width="5.12" height="42.81" fill="#04761f"/>
<rect x="468.62" y="38.31" width="5.12" height="30.58" fill="#04761f"/>
<rect x="468.62" y="71.04" width="5.12" height="3.06" fill="#04761f"/>
<rect x="468.62" y="76.25" width="5.12" height="58.1" fill="#04761f"/>
<rect x="468.62" y="136.5" width="5.12" height="287.45" fill="#04761f"/>
<rect x="468.62" y="426.1" width="5.12" height="3.06" fill="#04761f"/>
<rect x="468.62" y="431.31" width="5.12" height="42.81" fill="#04761f"/>
<rect x="473.75" y="38.31" width="5.12" height="30.58" fill="#04761f"/>
<rect x="473.75" y="71.04" width="5.12" height="3.06" fill="#04761f"/>
<rect x="473.75" y="76.25" width="5.12" height="58.1" fill="#04761f"/>
<rect x="473.75" y="136.5" width="5.12" height="287.45" fill="#04761f"/>
<rect x="473.75" y="426.1" width="5.12" height="3.06" fill="#04761f"/>
<rect x="473.75" y="431.31" width="5.12" height="42.81" fill="#04761f"/>
<rect x="478.87" y="38.31" width="5.12" height="30.58" fill="#04761f"/>
<rect x="478.87" y="71.04" width="5.12" height="3.06" fill="#04761f"/>
<rect x="478.87" y="76.25" width="5.12" height="58.1" fill="#04761f"/>
<rect x="478.87" y="136.5" width="5.12" height="287.45" fill="#04761f"/>
<rect x="478.87" y="426.1" width="5.12" height="3.06" fill="#04761f"/>
<rect x="478.87" y="431.31" width="5.12" height="42.81" fill="#04761f"/>
<rect x="483.99" y="38.31" width="5.12" height="30.58" fill="#04761f"/>
<rect x="483.99" y="71.04" width="5.12" height="3.06" fill="#04761f"/>
<rect x="483.99" y="76.25" width="5.12" height="58.1" fill="#04761f"/>
<rect x="483.99" y="136.5" width="5.12" height="287.45" fill="#04761f"/>
<rect x="483.99" y="426.1" width="5.12" height="3.06" fill="#04761f"/>
<rect x="483.99" y="431.31" width="5.12" height="42.81" fill="#04761f"/>
<rect x="489.11" y="38.31" width="5.12" height="30.58" fill="#04761f"/>
<rect x="489.11" y="71.04" width="5.12" height="3.06" fill="#04761f"/>
<rect x="489.11" y="76.25" width="5.12" height="58.1" fill="#04761f"/>
<rect x="489.11" y="136.5" width="5.12" height="287.45" fill="#04761f"/>
<rect x="489.11" y="426.1" width="5.12" height="3.06" fill="#04761f"/>
<rect x="489.11" y="431.31" width="5.12" height="42.81" fill="#04761f"/>
<rect x="494.23" y="38.31" width="5.12" height="30.58" fill="#04761f"/>
<rect x="494.23" y="71.04" width="5.12" height="3.06" fill="#04761f"/>
<rect x="494.23" y="76.25" width="5.12" height="58.1" fill="#04761f"/>
<rect x="494.23" y="136.5" width="5.12" height="287.45" fill="#04761f"/>
<rect x="494.23" y="426.1" width="5.12" height="3.06" fill="#04761f"/>
<rect x="494.23" y="431.31" width="5.12" height="42.81" fill="#04761f"/>
<rect x="499.35" y="38.31" width="5.12" height="30.58" fill="#04761f"/>
<rect x="499.35" y="71.04" width="5.12" height="3.06" fill="#04761f"/>
<rect x="499.35" y="76.25" width="5.12" height="58.1" fill="#04761f"/>
<rect x="499.35" y="136.5" width="5.12" height="287.45" fill="#04761f"/>
<rect x="499.35" y="426.1" width="5.12" height="3.06" fill="#04761f"/>
<rect x="499.35" y="431.31" width="5.12" height="42.81" fill="#04761f"/>
<rect x="504.47" y="38.31" width="5.12" height="30.58" fill="#04761f"/>
<rect x="504.47" y="71.04" width="5.12" height="3.06" fill="#04761f"/>
<rect x="504.47" y="76.25" width="5.12" height="58.1" fill="#04761f"/>
<rect x="504.47" y="136.5" width="5.12" height="287.45" fill="#04761f"/>
<rect x="504.47" y="426.1" width="5.12" height="3.06" fill="#04761f"/>
<rect x="504.47" y="431.31" width="5.12" height="42.81" fill="#04761f"/>
<path d="M246.7 33.1V36.16M251.82 33.1V36.16M256.94 33.1V36.16M262.06 33.1V36.16M267.19 33.1V36.16M272.31 33.1V36.16M277.43 33.1V36.16M282.55 33.1V36.16M287.67 33.1V36.16M292.79 33.1V36.16M297.92 33.1V36.16M303.04 33.1V36.16M308.16 33.1V36.16M313.28 33.1V36.16M318.4 33.1V36.16M323.52 33.1V36.16M328.65 33.1V36.16M333.77 33.1V36.16M338.89 33.1V36.16M344.01 33.1V36.16M349.13 33.1V36.16M354.25 33.1V36.16M359.38 33.1V36.16M246.7 33.1H359.38M246.7 36.16H359.38M246.7 38.31V68.89M251.82 38.31V68.89M256.94 38.31V68.89M262.06 38.31V68.89M267.19 38.31V68.89M272.31 38.31V68.89M277.43 38.31V68.89M282.55 38.31V68.89M287.67 38.31V68.89M292.79 38.31V68.89M297.92 38.31V68.89M303.04 38.31V68.89M308.16 38.31V68.89M313.28 38.31V68.89M318.4 38.31V68.89M323.52 38.31V68.89M328.65 38.31V68.89M333.77 38.31V68.89M338.89 38.31V68.89M344.01 38.31V68.89M349.13 38.31V68.89M354.25 38.31V68.89M359.38 38.31V68.89M246.7 38.31H359.38M246.7 41.37H359.38M246.7 44.42H359.38M246.7 47.48H359.38M246.7 50.54H359.38M246.7 53.6H359.38M246.7 56.66H359.38M246.7 59.71H359.38M246.7 62.77H359.38M246.7 65.83H359.38M246.7 68.89H359.38M246.7 71.04V74.1M251.82 71.04V74.1M256.94 71.04V74.1M262.06 71.04V74.1M267.19 71.04V74.1M272.31 71.04V74.1M277.43 71.04V74.1M282.55 71.04V74.1M287.67 71.04V74.1M292.79 71.04V74.1M297.92 71.04V74.1M303.04 71.04V74.1M308.16 71.04V74.1M313.28 71.04V74.1M318.4 71.04V74.1M323.52 71.04V74.1M328.65 71.04V74.1M333.77 71.04V74.1M338.89 71.04V74.1M344.01 71.04V74.1M349.13 71.04V74.1M354.25 71.04V74.1M359.38 71.04V74.1M246.7 71.04H359.38M246.7 74.1H359.38M246.7 76.25V134.35M251.82 76.25V134.35M256.94 76.25V134.35M262.06 76.25V134.35M267.19 76.25V134.35M272.31 76.25V134.35M277.43 76.25V134.35M282.55 76.25V134.35M287.67 76.25V134.35M292.79 76.25V134.35M297.92 76.25V134.35M303.04 76.25V134.35M308.16 76.25V134.35M313.28 76.25V134.35M318.4 76.25V134.35M323.52 76.25V134.35M328.65 76.25V134.35M333.77 76.25V134.35M338.89 76.25V134.35M344.01 76.25V134.35M349.13 76.25V134.35M354.25 76.25V134.35M359.38 76.25V134.35M246.7 76.25H359.38M246.7 79.3H359.38M246.7 82.36H359.38M246.7 85.42H359.38M246.7 88.48H359.38M246.7 91.54H359.38M246.7 94.59H359.38M246.7 97.65H359.38M246.7 100.71H359.38M246.7 103.77H359.38M246.7 106.83H359.38M246.7 109.88H359.38M246.7 112.94H359.38M246.7 116H359.38M246.7 119.06H359.38M246.7 122.12H359.38M246.7 125.17H359.38M246.7 128.23H359.38M246.7 131.29H359.38M246.7 134.35H359.38M246.7 136.5V423.95M251.82 136.5V423.95M256.94 136.5V423.95M262.06 136.5V423.95M267.19 136.5V423.95M272.31 136.5V423.95M277.43 136.5V423.95M282.55 136.5V423.95M287.67 136.5V423.95M292.79 136.5V423.95M297.92 136.5V423.95M303.04 136.5V423.95M308.16 136.5V423.95M313.28 136.5V423.95M318.4 136.5V423.95M323.52 136.5V423.95M328.65 136.5V423.95M333.77 136.5V423.95M338.89 136.5V423.95M344.01 136.5V423.95M349.13 136.5V423.95M354.25 136.5V423.95M359.38 136.5V423.95M246.7 136.5H359.38M246.7 139.56H359.38M246.7 142.61H359.38M246.7 145.67H359.38M246.7 148.73H359.38M246.7 151.79H359.38M246.7 154.85H359.38M246.7 157.9H359.38M246.7 160.96H359.38M246.7 164.02H359.38M246.7 167.08H359.38M246.7 170.14H359.38M246.7 173.19H359.38M246.7 176.25H359.38M246.7 179.31H359.38M246.7 182.37H359.38M246.7 185.43H359.38M246.7 188.48H359.38M246.7 191.54H359.38M246.7 194.6H359.38M246.7 197.66H359.38M246.7 200.72H359.38M246.7 203.77H359.38M246.7 206.83H359.38M246.7 209.89H359.38M246.7 212.95H359.38M246.7 216.01H359.38M246.7 219.06H359.38M246.7 222.12H359.38M246.7 225.18H359.38M246.7 228.24H359.38M246.7 231.3H359.38M246.7 234.35H359.38M246.7 237.41H359.38M246.7 240.47H359.38M246.7 243.53H359.38M246.7 246.59H359.38M246.7 249.64H359.38M246.7 252.7H359.38M246.7 255.76H359.38M246.7 258.82H359.38M246.7 261.88H359.38M246.7 264.93H359.38M246.7 267.99H359.38M246.7 271.05H359.38M246.7 274.11H359.38M246.7 277.17H359.38M246.7 280.22H359.38M246.7 283.28H359.38M246.7 286.34H359.38M246.7 289.4H359.38M246.7 292.46H359.38M246.7 295.51H359.38M246.7 298.57H359.38M246.7 301.63H359.38M246.7 304.69H359.38M246.7 307.75H359.38M246.7 310.8H359.38M246.7 313.86H359.38M246.7 316.92H359.38M246.7 319.98H359.38M246.7 323.04H359.38M246.7 326.09H359.38M246.7 329.15H359.38M246.7 332.21H359.38M246.7 335.27H359.38M246.7 338.33H359.38M246.7 341.38H359.38M246.7 344.44H359.38M246.7 347.5H359.38M246.7 350.56H359.38M246.7 353.62H359.38M246.7 356.67H359.38M246.7 359.73H359.38M246.7 362.79H359.38M246.7 365.85H359.38M246.7 368.91H359.38M246.7 371.96H359.38M246.7 375.02H359.38M246.7 378.08H359.38M246.7 381.14H359.38M246.7 384.2H359.38M246.7 387.25H359.38M246.7 390.31H359.38M246.7 393.37H359.38M246.7 396.43H359.38M246.7 399.49H359.38M246.7 402.54H359.38M246.7 405.6H359.38M246.7 408.66H359.38M246.7 411.72H359.38M246.7 414.78H359.38M246.7 417.83H359.38M246.7 420.89H359.38M246.7 423.95H359.38M246.7 426.1V429.16M251.82 426.1V429.16M256.94 426.1V429.16M262.06 426.1V429.16M267.19 426.1V429.16M272.31 426.1V429.16M277.43 426.1V429.16M282.55 426.1V429.16M287.67 426.1V429.16M292.79 426.1V429.16M297.92 426.1V429.16M303.04 426.1V429.16M308.16 426.1V429.16M313.28 426.1V429.16M318.4 426.1V429.16M323.52 426.1V429.16M328.65 426.1V429.16M333.77 426.1V429.16M338.89 426.1V429.16M344.01 426.1V429.16M349.13 426.1V429.16M354.25 426.1V429.16M359.38 426.1V429.16M246.7 426.1H359.38M246.7 429.16H359.38M246.7 431.31V474.12M251.82 431.31V474.12M256.94 431.31V474.12M262.06 431.31V474.12M267.19 431.31V474.12M272.31 431.31V474.12M277.43 431.31V474.12M282.55 431.31V474.12M287.67 431.31V474.12M292.79 431.31V474.12M297.92 431.31V474.12M303.04 431.31V474.12M308.16 431.31V474.12M313.28 431.31V474.12M318.4 431.31V474.12M323.52 431.31V474.12M328.65 431.31V474.12M333.77 431.31V474.12M338.89 431.31V474.12M344.01 431.31V474.12M349.13 431.31V474.12M354.25 431.31V474.12M359.38 431.31V474.12M246.7 431.31H359.38M246.7 434.37H359.38M246.7 437.42H359.38M246.7 440.48H359.38M246.7 443.54H359.38M246.7 446.6H359.38M246.7 449.66H359.38M246.7 452.71H359.38M246.7 455.77H359.38M246.7 458.83H359.38M246.7 461.89H359.38M246.7 464.95H359.38M246.7 468H359.38M246.7 471.06H359.38M246.7 474.12H359.38M361.07 33.1V36.16M366.19 33.1V36.16M371.31 33.1V36.16M376.43 33.1V36.16M381.56 33.1V36.16M386.68 33.1V36.16M391.8 33.1V36.16M396.92 33.1V36.16M402.04 33.1V36.16M407.16 33.1V36.16M412.29 33.1V36.16M417.41 33.1V36.16M422.53 33.1V36.16M427.65 33.1V36.16M432.77 33.1V36.16M437.89 33.1V36.16M443.02 33.1V36.16M448.14 33.1V36.16M453.26 33.1V36.16M458.38 33.1V36.16M463.5 33.1V36.16M468.62 33.1V36.16M473.75 33.1V36.16M478.87 33.1V36.16M483.99 33.1V36.16M489.11 33.1V36.16M494.23 33.1V36.16M499.35 33.1V36.16M504.47 33.1V36.16M509.6 33.1V36.16M361.07 33.1H509.6M361.07 36.16H509.6M361.07 38.31V68.89M366.19 38.31V68.89M371.31 38.31V68.89M376.43 38.31V68.89M381.56 38.31V68.89M386.68 38.31V68.89M391.8 38.31V68.89M396.92 38.31V68.89M402.04 38.31V68.89M407.16 38.31V68.89M412.29 38.31V68.89M417.41 38.31V68.89M422.53 38.31V68.89M427.65 38.31V68.89M432.77 38.31V68.89M437.89 38.31V68.89M443.02 38.31V68.89M448.14 38.31V68.89M453.26 38.31V68.89M458.38 38.31V68.89M463.5 38.31V68.89M468.62 38.31V68.89M473.75 38.31V68.89M478.87 38.31V68.89M483.99 38.31V68.89M489.11 38.31V68.89M494.23 38.31V68.89M499.35 38.31V68.89M504.47 38.31V68.89M509.6 38.31V68.89M361.07 38.31H509.6M361.07 41.37H509.6M361.07 44.42H509.6M361.07 47.48H509.6M361.07 50.54H509.6M361.07 53.6H509.6M361.07 56.66H509.6M361.07 59.71H509.6M361.07 62.77H509.6M361.07 65.83H509.6M361.07 68.89H509.6M361.07 71.04V74.1M366.19 71.04V74.1M371.31 71.04V74.1M376.43 71.04V74.1M381.56 71.04V74.1M386.68 71.04V74.1M391.8 71.04V74.1M396.92 71.04V74.1M402.04 71.04V74.1M407.16 71.04V74.1M412.29 71.04V74.1M417.41 71.04V74.1M422.53 71.04V74.1M427.65 71.04V74.1M432.77 71.04V74.1M437.89 71.04V74.1M443.02 71.04V74.1M448.14 71.04V74.1M453.26 71.04V74.1M458.38 71.04V74.1M463.5 71.04V74.1M468.62 71.04V74.1M473.75 71.04V74.1M478.87 71.04V74.1M483.99 71.04V74.1M489.11 71.04V74.1M494.23 71.04V74.1M499.35 71.04V74.1M504.47 71.04V74.1M509.6 71.04V74.1M361.07 71.04H509.6M361.07 74.1H509.6M361.07 76.25V134.35M366.19 76.25V134.35M371.31 76.25V134.35M376.43 76.25V134.35M381.56 76.25V134.35M386.68 76.25V134.35M391.8 76.25V134.35M396.92 76.25V134.35M402.04 76.25V134.35M407.16 76.25V134.35M412.29 76.25V134.35M417.41 76.25V134.35M422.53 76.25V134.35M427.65 76.25V134.35M432.77 76.25V134.35M437.89 76.25V134.35M443.02 76.25V134.35M448.14 76.25V134.35M453.26 76.25V134.35M458.38 76.25V134.35M463.5 76.25V134.35M468.62 76.25V134.35M473.75 76.25V134.35M478.87 76.25V134.35M483.99 76.25V134.35M489.11 76.25V134.35M494.23 76.25V134.35M499.35 76.25V134.35M504.47 76.25V134.35M509.6 76.25V134.35M361.07 76.25H509.6M361.07 79.3H509.6M361.07 82.36H509.6M361.07 85.42H509.6M361.07 88.48H509.6M361.07 91.54H509.6M361.07 94.59H509.6M361.07 97.65H509.6M361.07 100.71H509.6M361.07 103.77H509.6M361.07 106.83H509.6M361.07 109.88H509.6M361.07 112.94H509.6M361.07 116H509.6M361.07 119.06H509.6M361.07 122.12H509.6M361.07 125.17H509.6M361.07 128.23H509.6M361.07 131.29H509.6M361.07 134.35H509.6M361.07 136.5V423.95M366.19 136.5V423.95M371.31 136.5V423.95M376.43 136.5V423.95M381.56 136.5V423.95M386.68 136.5V423.95M391.8 136.5V423.95M396.92 136.5V423.95M402.04 136.5V423.95M407.16 136.5V423.95M412.29 136.5V423.95M417.41 136.5V423.95M422.53 136.5V423.95M427.65 136.5V423.95M432.77 136.5V423.95M437.89 136.5V423.95M443.02 136.5V423.95M448.14 136.5V423.95M453.26 136.5V423.95M458.38 136.5V423.95M463.5 136.5V423.95M468.62 136.5V423.95M473.75 136.5V423.95M478.87 136.5V423.95M483.99 136.5V423.95M489.11 136.5V423.95M494.23 136.5V423.95M499.35 136.5V423.95M504.47 136.5V423.95M509.6 136.5V423.95M361.07 136.5H509.6M361.07 139.56H509.6M361.07 142.61H509.6M361.07 145.67H509.6M361.07 148.73H509.6M361.07 151.79H509.6M361.07 154.85H509.6M361.07 157.9H509.6M361.07 160.96H509.6M361.07 164.02H509.6M361.07 167.08H509.6M361.07 170.14H509.6M361.07 173.19H509.6M361.07 176.25H509.6M361.07 179.31H509.6M361.07 182.37H509.6M361.07 185.43H509.6M361.07 188.48H509.6M361.07 191.54H509.6M361.07 194.6H509.6M361.07 197.66H509.6M361.07 200.72H509.6M361.07 203.77H509.6M361.07 206.83H509.6M361.07 209.89H509.6M361.07 212.95H509.6M361.07 216.01H509.6M361.07 219.06H509.6M361.07 222.12H509.6M361.07 225.18H509.6M361.07 228.24H509.6M361.07 231.3H509.6M361.07 234.35H509.6M361.07 237.41H509.6M361.07 240.47H509.6M361.07 243.53H509.6M361.07 246.59H509.6M361.07 249.64H509.6M361.07 252.7H509.6M361.07 255.76H509.6M361.07 258.82H509.6M361.07 261.88H509.6M361.07 264.93H509.6M361.07 267.99H509.6M361.07 271.05H509.6M361.07 274.11H509.6M361.07 277.17H509.6M361.07 280.22H509.6M361.07 283.28H509.6M361.07 286.34H509.6M361.07 289.4H509.6M361.07 292.46H509.6M361.07 295.51H509.6M361.07 298.57H509.6M361.07 301.63H509.6M361.07 304.69H509.6M361.07 307.75H509.6M361.07 310.8H509.6M361.07 313.86H509.6M361.07 316.92H509.6M361.07 319.98H509.6M361.07 323.04H509.6M361.07 326.09H509.6M361.07 329.15H509.6M361.07 332.21H509.6M361.07 335.27H509.6M361.07 338.33H509.6M361.07 341.38H509.6M361.07 344.44H509.6M361.07 347.5H509.6M361.07 350.56H509.6M361.07 353.62H509.6M361.07 356.67H509.6M361.07 359.73H509.6M361.07 362.79H509.6M361.07 365.85H509.6M361.07 368.91H509.6M361.07 371.96H509.6M361.07 375.02H509.6M361.07 378.08H509.6M361.07 381.14H509.6M361.07 384.2H509.6M361.07 387.25H509.6M361.07 390.31H509.6M361.07 393.37H509.6M361.07 396.43H509.6M361.07 399.49H509.6M361.07 402.54H509.6M361.07 405.6H509.6M361.07 408.66H509.6M361.07 411.72H509.6M361.07 414.78H509.6M361.07 417.83H509.6M361.07 420.89H509.6M361.07 423.95H509.6M361.07 426.1V429.16M366.19 426.1V429.16M371.31 426.1V429.16M376.43 426.1V429.16M381.56 426.1V429.16M386.68 426.1V429.16M391.8 426.1V429.16M396.92 426.1V429.16M402.04 426.1V429.16M407.16 426.1V429.16M412.29 426.1V429.16M417.41 426.1V429.16M422.53 426.1V429.16M427.65 426.1V429.16M432.77 426.1V429.16M437.89 426.1V429.16M443.02 426.1V429.16M448.14 426.1V429.16M453.26 426.1V429.16M458.38 426.1V429.16M463.5 426.1V429.16M468.62 426.1V429.16M473.75 426.1V429.16M478.87 426.1V429.16M483.99 426.1V429.16M489.11 426.1V429.16M494.23 426.1V429.16M499.35 426.1V429.16M504.47 426.1V429.16M509.6 426.1V429.16M361.07 426.1H509.6M361.07 429.16H509.6M361.07 431.31V474.12M366.19 431.31V474.12M371.31 431.31V474.12M376.43 431.31V474.12M381.56 431.31V474.12M386.68 431.31V474.12M391.8 431.31V474.12M396.92 431.31V474.12M402.04 431.31V474.12M407.16 431.31V474.12M412.29 431.31V474.12M417.41 431.31V474.12M422.53 431.31V474.12M427.65 431.31V474.12M432.77 431.31V474.12M437.89 431.31V474.12M443.02 431.31V474.12M448.14 431.31V474.12M453.26 431.31V474.12M458.38 431.31V474.12M463.5 431.31V474.12M468.62 431.31V474.12M473.75 431.31V474.12M478.87 431.31V474.12M483.99 431.31V474.12M489.11 431.31V474.12M494.23 431.31V474.12M499.35 431.31V474.12M504.47 431.31V474.12M509.6 431.31V474.12M361.07 431.31H509.6M361.07 434.37H509.6M361.07 437.42H509.6M361.07 440.48H509.6M361.07 443.54H509.6M361.07 446.6H509.6M361.07 449.66H509.6M361.07 452.71H509.6M361.07 455.77H509.6M361.07 458.83H509.6M361.07 461.89H509.6M361.07 464.95H509.6M361.07 468H509.6M361.07 471.06H509.6M361.07 474.12H509.6" stroke="#a6a6a6" stroke-width="0.33" fill="none"/>
<path d="M246.7 76.25h5.12v58.1h-5.12zM251.82 76.25h5.12v58.1h-5.12zM256.94 76.25h5.12v58.1h-5.12zM262.06 365.85h5.12v48.93h-5.12zM262.06 417.83h5.12v3.06h-5.12zM267.19 157.9h5.12v6.12h-5.12zM267.19 203.77h5.12v3.06h-5.12zM267.19 414.78h5.12v3.06h-5.12zM267.19 426.1h5.12v3.06h-5.12zM267.19 431.31h5.12v27.52h-5.12zM272.31 426.1h5.12v3.06h-5.12zM272.31 431.31h5.12v21.41h-5.12zM277.43 33.1h5.12v3.06h-5.12zM277.43 50.54h5.12v3.06h-5.12zM277.43 71.04h5.12v3.06h-5.12zM277.43 136.5h5.12v12.23h-5.12zM277.43 304.69h5.12v3.06h-5.12zM277.43 350.56h5.12v18.35h-5.12zM282.55 38.31h5.12v30.58h-5.12zM282.55 76.25h5.12v9.17h-5.12zM287.67 38.31h5.12v30.58h-5.12zM292.79 38.31h5.12v30.58h-5.12zM297.92 53.6h5.12v15.29h-5.12zM303.04 53.6h5.12v15.29h-5.12zM303.04 76.25h5.12v9.17h-5.12zM308.16 38.31h5.12v9.17h-5.12zM308.16 402.54h5.12v6.12h-5.12zM308.16 468h5.12v6.12h-5.12zM313.28 56.66h5.12v3.06h-5.12zM313.28 88.48h5.12v3.06h-5.12zM313.28 417.83h5.12v6.12h-5.12zM318.4 417.83h5.12v6.12h-5.12zM323.52 71.04h5.12v3.06h-5.12zM328.65 71.04h5.12v3.06h-5.12zM333.77 71.04h5.12v3.06h-5.12zM338.89 71.04h5.12v3.06h-5.12zM344.01 71.04h5.12v3.06h-5.12zM349.13 85.42h5.12v3.06h-5.12zM349.13 148.73h5.12v3.06h-5.12zM349.13 464.95h5.12v3.06h-5.12zM354.25 414.78h5.12v3.06h-5.12zM354.25 464.95h5.12v3.06h-5.12zM361.07 38.31h5.12v30.58h-5.12zM361.07 71.04h5.12v3.06h-5.12zM361.07 76.25h5.12v58.1h-5.12zM361.07 203.77h5.12v100.91h-5.12zM361.07 350.56h5.12v73.39h-5.12zM361.07 431.31h5.12v42.81h-5.12zM366.19 33.1h5.12v3.06h-5.12zM366.19 38.31h5.12v30.58h-5.12zM366.19 71.04h5.12v3.06h-5.12zM366.19 76.25h5.12v58.1h-5.12zM366.19 203.77h5.12v220.18h-5.12zM366.19 431.31h5.12v42.81h-5.12zM371.31 85.42h5.12v48.93h-5.12zM371.31 136.5h5.12v168.19h-5.12zM371.31 359.73h5.12v6.12h-5.12zM371.31 420.89h5.12v3.06h-5.12zM371.31 426.1h5.12v3.06h-5.12zM371.31 431.31h5.12v42.81h-5.12zM376.43 33.1h5.12v3.06h-5.12zM376.43 47.48h5.12v9.17h-5.12zM376.43 85.42h5.12v42.81h-5.12zM376.43 139.56h5.12v12.23h-5.12zM376.43 157.9h5.12v119.26h-5.12zM376.43 304.69h5.12v61.16h-5.12zM376.43 368.91h5.12v24.46h-5.12zM376.43 408.66h5.12v3.06h-5.12zM376.43 431.31h5.12v33.64h-5.12zM381.56 33.1h5.12v3.06h-5.12zM381.56 47.48h5.12v21.41h-5.12zM381.56 71.04h5.12v3.06h-5.12zM381.56 76.25h5.12v58.1h-5.12zM381.56 136.5h5.12v266.05h-5.12zM381.56 414.78h5.12v9.17h-5.12zM381.56 426.1h5.12v3.06h-5.12zM386.68 33.1h5.12v3.06h-5.12zM386.68 47.48h5.12v21.41h-5.12zM386.68 71.04h5.12v3.06h-5.12zM386.68 76.25h5.12v58.1h-5.12zM386.68 136.5h5.12v266.05h-5.12zM386.68 414.78h5.12v9.17h-5.12zM386.68 426.1h5.12v3.06h-5.12zM391.8 38.31h5.12v30.58h-5.12zM391.8 71.04h5.12v3.06h-5.12zM391.8 76.25h5.12v58.1h-5.12zM391.8 136.5h5.12v287.45h-5.12zM391.8 426.1h5.12v3.06h-5.12zM391.8 452.71h5.12v21.41h-5.12zM396.92 33.1h5.12v3.06h-5.12zM396.92 41.37h5.12v27.52h-5.12zM396.92 71.04h5.12v3.06h-5.12zM396.92 76.25h5.12v58.1h-5.12zM396.92 136.5h5.12v287.45h-5.12zM396.92 426.1h5.12v3.06h-5.12zM396.92 431.31h5.12v36.7h-5.12zM396.92 471.06h5.12v3.06h-5.12zM402.04 33.1h5.12v3.06h-5.12zM402.04 38.31h5.12v30.58h-5.12zM402.04 71.04h5.12v3.06h-5.12zM402.04 76.25h5.12v58.1h-5.12zM402.04 136.5h5.12v287.45h-5.12zM402.04 431.31h5.12v42.81h-5.12zM407.16 33.1h5.12v3.06h-5.12zM407.16 38.31h5.12v30.58h-5.12zM407.16 71.04h5.12v3.06h-5.12zM407.16 76.25h5.12v58.1h-5.12zM407.16 136.5h5.12v287.45h-5.12zM407.16 431.31h5.12v42.81h-5.12zM412.29 33.1h5.12v3.06h-5.12zM412.29 38.31h5.12v30.58h-5.12zM412.29 71.04h5.12v3.06h-5.12zM412.29 76.25h5.12v58.1h-5.12zM412.29 136.5h5.12v287.45h-5.12zM412.29 426.1h5.12v3.06h-5.12zM412.29 431.31h5.12v42.81h-5.12zM417.41 33.1h5.12v3.06h-5.12zM417.41 38.31h5.12v30.58h-5.12zM417.41 71.04h5.12v3.06h-5.12zM417.41 76.25h5.12v58.1h-5.12zM417.41 136.5h5.12v287.45h-5.12zM417.41 426.1h5.12v3.06h-5.12zM417.41 431.31h5.12v42.81h-5.12zM422.53 33.1h5.12v3.06h-5.12zM422.53 38.31h5.12v30.58h-5.12zM422.53 71.04h5.12v3.06h-5.12zM422.53 76.25h5.12v58.1h-5.12zM422.53 136.5h5.12v287.45h-5.12zM422.53 426.1h5.12v3.06h-5.12zM422.53 431.31h5.12v42.81h-5.12zM427.65 33.1h5.12v3.06h-5.12zM427.65 38.31h5.12v30.58h-5.12zM427.65 71.04h5.12v3.06h-5.12zM427.65 76.25h5.12v58.1h-5.12zM427.65 136.5h5.12v287.45h-5.12zM427.65 426.1h5.12v3.06h-5.12zM427.65 431.31h5.12v42.81h-5.12zM432.77 33.1h5.12v3.06h-5.12zM432.77 38.31h5.12v30.58h-5.12zM432.77 71.04h5.12v3.06h-5.12zM432.77 76.25h5.12v58.1h-5.12zM432.77 136.5h5.12v287.45h-5.12zM432.77 426.1h5.12v3.06h-5.12zM432.77 431.31h5.12v42.81h-5.12zM437.89 33.1h5.12v3.06h-5.12zM437.89 38.31h5.12v30.58h-5.12zM437.89 71.04h5.12v3.06h-5.12zM437.89 76.25h5.12v58.1h-5.12zM437.89 136.5h5.12v287.45h-5.12zM437.89 426.1h5.12v3.06h-5.12zM437.89 431.31h5.12v42.81h-5.12zM443.02 33.1h5.12v3.06h-5.12zM443.02 38.31h5.12v30.58h-5.12zM443.02 71.04h5.12v3.06h-5.12zM443.02 76.25h5.12v58.1h-5.12zM443.02 136.5h5.12v287.45h-5.12zM443.02 426.1h5.12v3.06h-5.12zM443.02 431.31h5.12v42.81h-5.12zM448.14 33.1h5.12v3.06h-5.12zM448.14 38.31h5.12v30.58h-5.12zM448.14 71.04h5.12v3.06h-5.12zM448.14 76.25h5.12v58.1h-5.12zM448.14 136.5h5.12v287.45h-5.12zM448.14 426.1h5.12v3.06h-5.12zM448.14 431.31h5.12v42.81h-5.12zM453.26 33.1h5.12v3.06h-5.12zM453.26 38.31h5.12v30.58h-5.12zM453.26 71.04h5.12v3.06h-5.12zM453.26 76.25h5.12v58.1h-5.12zM453.26 136.5h5.12v287.45h-5.12zM453.26 426.1h5.12v3.06h-5.12zM453.26 431.31h5.12v42.81h-5.12zM458.38 33.1h5.12v3.06h-5.12zM458.38 38.31h5.12v30.58h-5.12zM458.38 71.04h5.12v3.06h-5.12zM458.38 76.25h5.12v58.1h-5.12zM458.38 136.5h5.12v287.45h-5.12zM458.38 426.1h5.12v3.06h-5.12zM458.38 431.31h5.12v42.81h-5.12zM463.5 38.31h5.12v30.58h-5.12zM463.5 71.04h5.12v3.06h-5.12zM463.5 76.25h5.12v58.1h-5.12zM463.5 136.5h5.12v287.45h-5.12zM463.5 426.1h5.12v3.06h-5.12zM463.5 431.31h5.12v42.81h-5.12zM468.62 38.31h5.12v30.58h-5.12zM468.62 71.04h5.12v3.06h-5.12zM468.62 76.25h5.12v58.1h-5.12zM468.62 136.5h5.12v287.45h-5.12zM468.62 426.1h5.12v3.06h-5.12zM468.62 431.31h5.12v42.81h-5.12zM473.75 38.31h5.12v30.58h-5.12zM473.75 71.04h5.12v3.06h-5.12zM473.75 76.25h5.12v58.1h-5.12zM473.75 136.5h5.12v287.45h-5.12zM473.75 426.1h5.12v3.06h-5.12zM473.75 431.31h5.12v42.81h-5.12zM478.87 38.31h5.12v30.58h-5.12zM478.87 71.04h5.12v3.06h-5.12zM478.87 76.25h5.12v58.1h-5.12zM478.87 136.5h5.12v287.45h-5.12zM478.87 426.1h5.12v3.06h-5.12zM478.87 431.31h5.12v42.81h-5.12zM483.99 38.31h5.12v30.58h-5.12zM483.99 71.04h5.12v3.06h-5.12zM483.99 76.25h5.12v58.1h-5.12zM483.99 136.5h5.12v287.45h-5.12zM483.99 426.1h5.12v3.06h-5.12zM483.99 431.31h5.12v42.81h-5.12zM489.11 38.31h5.12v30.58h-5.12zM489.11 71.04h5.12v3.06h-5.12zM489.11 76.25h5.12v58.1h-5.12zM489.11 136.5h5.12v287.45h-5.12zM489.11 426.1h5.12v3.06h-5.12zM489.11 431.31h5.12v42.81h-5.12zM494.23 38.31h5.12v30.58h-5.12zM494.23 71.04h5.12v3.06h-5.12zM494.23 76.25h5.12v58.1h-5.12zM494.23 136.5h5.12v287.45h-5.12zM494.23 426.1h5.12v3.06h-5.12zM494.23 431.31h5.12v42.81h-5.12zM499.35 38.31h5.12v30.58h-5.12zM499.35 71.04h5.12v3.06h-5.12zM499.35 76.25h5.12v58.1h-5.12zM499.35 136.5h5.12v287.45h-5.12zM499.35 426.1h5.12v3.06h-5.12zM499.35 431.31h5.12v42.81h-5.12zM504.47 38.31h5.12v30.58h-5.12zM504.47 71.04h5.12v3.06h-5.12zM504.47 76.25h5.12v58.1h-5.12zM504.47 136.5h5.12v287.45h-5.12zM504.47 426.1h5.12v3.06h-5.12zM504.47 431.31h5.12v42.81h-5.12z" fill="#04761f" fill-opacity="0.4"/>
<rect x="514.3" y="33.1" width="5.2" height="3.06" fill="#999999"/>
<rect x="514.3" y="38.31" width="5.2" height="15.29" fill="#999999"/>
<rect x="514.3" y="53.6" width="5.2" height="6.12" fill="#fb0d12"/>
<rect x="514.3" y="59.71" width="5.2" height="3.06" fill="#999999"/>
<rect x="514.3" y="62.77" width="5.2" height="3.06" fill="#fb0d12"/>
<rect x="514.3" y="65.83" width="5.2" height="3.06" fill="#999999"/>
<rect x="514.3" y="71.04" width="5.2" height="3.06" fill="#fb0d12"/>
<rect x="514.3" y="76.25" width="5.2" height="3.06" fill="#999999"/>
<rect x="514.3" y="79.3" width="5.2" height="3.06" fill="#fb0d12"/>
<rect x="514.3" y="82.36" width="5.2" height="3.06" fill="#999999"/>
<rect x="514.3" y="85.42" width="5.2" height="12.23" fill="#fb0d12"/>
<rect x="514.3" y="97.65" width="5.2" height="6.12" fill="#999999"/>
<rect x="514.3" y="103.77" width="5.2" height="6.12" fill="#fb0d12"/>
<rect x="514.3" y="109.88" width="5.2" height="6.12" fill="#999999"/>
<rect x="514.3" y="116" width="5.2" height="3.06" fill="#fb0d12"/>
<rect x="514.3" y="119.06" width="5.2" height="3.06" fill="#999999"/>
<rect x="514.3" y="122.12" width="5.2" height="12.23" fill="#fb0d12"/>
<rect x="514.3" y="136.5" width="5.2" height="6.12" fill="#fb0d12"/>
<rect x="514.3" y="142.61" width="5.2" height="3.06" fill="#999999"/>
<rect x="514.3" y="145.67" width="5.2" height="3.06" fill="#fb0d12"/>
<rect x="514.3" y="148.73" width="5.2" height="6.12" fill="#999999"/>
<rect x="514.3" y="154.85" width="5.2" height="3.06" fill="#fb0d12"/>
<rect x="514.3" y="157.9" width="5.2" height="9.17" fill="#999999"/>
<rect x="514.3" y="167.08" width="5.2" height="3.06" fill="#fb0d12"/>
<rect x="514.3" y="170.14" width="5.2" height="9.17" fill="#999999"/>
<rect x="514.3" y="179.31" width="5.2" height="3.06" fill="#fb0d12"/>
<rect x="514.3" y="182.37" width="5.2" height="3.06" fill="#999999"/>
<rect x="514.3" y="185.43" width="5.2" height="3.06" fill="#fb0d12"/>
<rect x="514.3" y="188.48" width="5.2" height="3.06" fill="#999999"/>
<rect x="514.3" y="191.54" width="5.2" height="15.29" fill="#fb0d12"/>
<rect x="514.3" y="206.83" width="5.2" height="9.17" fill="#999999"/>
<rect x="514.3" y="216.01" width="5.2" height="3.06" fill="#fb0d12"/>
<rect x="514.3" y="219.06" width="5.2" height="18.35" fill="#999999"/>
<rect x="514.3" y="237.41" width="5.2" height="6.12" fill="#fb0d12"/>
<rect x="514.3" y="243.53" width="5.2" height="3.06" fill="#999999"/>
<rect x="514.3" y="246.59" width="5.2" height="9.17" fill="#fb0d12"/>
<rect x="514.3" y="255.76" width="5.2" height="15.29" fill="#999999"/>
<rect x="514.3" y="271.05" width="5.2" height="3.06" fill="#fb0d12"/>
<rect x="514.3" y="274.11" width="5.2" height="3.06" fill="#999999"/>
<rect x="514.3" y="277.17" width="5.2" height="3.06" fill="#fb0d12"/>
<rect x="514.3" y="280.22" width="5.2" height="9.17" fill="#999999"/>
<rect x="514.3" y="289.4" width="5.2" height="3.06" fill="#1b76ba"/>
<rect x="514.3" y="292.46" width="5.2" height="6.12" fill="#999999"/>
<rect x="514.3" y="298.57" width="5.2" height="3.06" fill="#fbf60a"/>
<rect x="514.3" y="301.63" width="5.2" height="6.12" fill="#999999"/>
<rect x="514.3" y="307.75" width="5.2" height="3.06" fill="#fb0d12"/>
<rect x="514.3" y="310.8" width="5.2" height="24.46" fill="#999999"/>
<rect x="514.3" y="335.27" width="5.2" height="6.12" fill="#fb0d12"/>
<rect x="514.3" y="341.38" width="5.2" height="3.06" fill="#999999"/>
<rect x="514.3" y="344.44" width="5.2" height="3.06" fill="#fb0d12"/>
<rect x="514.3" y="347.5" width="5.2" height="18.35" fill="#999999"/>
<rect x="514.3" y="365.85" width="5.2" height="30.58" fill="#fb0d12"/>
<rect x="514.3" y="396.43" width="5.2" height="18.35" fill="#999999"/>
<rect x="514.3" y="414.78" width="5.2" height="3.06" fill="#fb0d12"/>
<rect x="514.3" y="417.83" width="5.2" height="3.06" fill="#999999"/>
<rect x="514.3" y="420.89" width="5.2" height="3.06" fill="#fb0d12"/>
<rect x="514.3" y="426.1" width="5.2" height="3.06" fill="#999999"/>
<rect x="514.3" y="431.31" width="5.2" height="6.12" fill="#999999"/>
<rect x="514.3" y="437.42" width="5.2" height="3.06" fill="#fb0d12"/>
<rect x="514.3" y="440.48" width="5.2" height="15.29" fill="#999999"/>
<rect x="514.3" y="455.77" width="5.2" height="6.12" fill="#fb0d12"/>
<rect x="514.3" y="461.89" width="5.2" height="3.06" fill="#999999"/>
<rect x="514.3" y="464.95" width="5.2" height="3.06" fill="#fb0d12"/>
<rect x="514.3" y="468" width="5.2" height="3.06" fill="#999999"/>
<rect x="514.3" y="471.06" width="5.2" height="3.06" fill="#fb0d12"/>
<path d="M514.3 33.1H519.5M514.3 36.16H519.5M514.3 33.1V36.16M519.5 33.1V36.16M514.3 38.31H519.5M514.3 41.37H519.5M514.3 44.42H519.5M514.3 47.48H519.5M514.3 50.54H519.5M514.3 53.6H519.5M514.3 56.66H519.5M514.3 59.71H519.5M514.3 62.77H519.5M514.3 65.83H519.5M514.3 68.89H519.5M514.3 38.31V68.89M519.5 38.31V68.89M514.3 71.04H519.5M514.3 74.1H519.5M514.3 71.04V74.1M519.5 71.04V74.1M514.3 76.25H519.5M514.3 79.3H519.5M514.3 82.36H519.5M514.3 85.42H519.5M514.3 88.48H519.5M514.3 91.54H519.5M514.3 94.59H519.5M514.3 97.65H519.5M514.3 100.71H519.5M514.3 103.77H519.5M514.3 106.83H519.5M514.3 109.88H519.5M514.3 112.94H519.5M514.3 116H519.5M514.3 119.06H519.5M514.3 122.12H519.5M514.3 125.17H519.5M514.3 128.23H519.5M514.3 131.29H519.5M514.3 134.35H519.5M514.3 76.25V134.35M519.5 76.25V134.35M514.3 136.5H519.5M514.3 139.56H519.5M514.3 142.61H519.5M514.3 145.67H519.5M514.3 148.73H519.5M514.3 151.79H519.5M514.3 154.85H519.5M514.3 157.9H519.5M514.3 160.96H519.5M514.3 164.02H519.5M514.3 167.08H519.5M514.3 170.14H519.5M514.3 173.19H519.5M514.3 176.25H519.5M514.3 179.31H519.5M514.3 182.37H519.5M514.3 185.43H519.5M514.3 188.48H519.5M514.3 191.54H519.5M514.3 194.6H519.5M514.3 197.66H519.5M514.3 200.72H519.5M514.3 203.77H519.5M514.3 206.83H519.5M514.3 209.89H519.5M514.3 212.95H519.5M514.3 216.01H519.5M514.3 219.06H519.5M514.3 222.12H519.5M514.3 225.18H519.5M514.3 228.24H519.5M514.3 231.3H519.5M514.3 234.35H519.5M514.3 237.41H519.5M514.3 240.47H519.5M514.3 243.53H519.5M514.3 246.59H519.5M514.3 249.64H519.5M514.3 252.7H519.5M514.3 255.76H519.5M514.3 258.82H519.5M514.3 261.88H519.5M514.3 264.93H519.5M514.3 267.99H519.5M514.3 271.05H519.5M514.3 274.11H519.5M514.3 277.17H519.5M514.3 280.22H519.5M514.3 283.28H519.5M514.3 286.34H519.5M514.3 289.4H519.5M514.3 292.46H519.5M514.3 295.51H519.5M514.3 298.57H519.5M514.3 301.63H519.5M514.3 304.69H519.5M514.3 307.75H519.5M514.3 310.8H519.5M514.3 313.86H519.5M514.3 316.92H519.5M514.3 319.98H519.5M514.3 323.04H519.5M514.3 326.09H519.5M514.3 329.15H519.5M514.3 332.21H519.5M514.3 335.27H519.5M514.3 338.33H519.5M514.3 341.38H519.5M514.3 344.44H519.5M514.3 347.5H519.5M514.3 350.56H519.5M514.3 353.62H519.5M514.3 356.67H519.5M514.3 359.73H519.5M514.3 362.79H519.5M514.3 365.85H519.5M514.3 368.91H519.5M514.3 371.96H519.5M514.3 375.02H519.5M514.3 378.08H519.5M514.3 381.14H519.5M514.3 384.2H519.5M514.3 387.25H519.5M514.3 390.31H519.5M514.3 393.37H519.5M514.3 396.43H519.5M514.3 399.49H519.5M514.3 402.54H519.5M514.3 405.6H519.5M514.3 408.66H519.5M514.3 411.72H519.5M514.3 414.78H519.5M514.3 417.83H519.5M514.3 420.89H519.5M514.3 423.95H519.5M514.3 136.5V423.95M519.5 136.5V423.95M514.3 426.1H519.5M514.3 429.16H519.5M514.3 426.1V429.16M519.5 426.1V429.16M514.3 431.31H519.5M514.3 434.37H519.5M514.3 437.42H519.5M514.3 440.48H519.5M514.3 443.54H519.5M514.3 446.6H519.5M514.3 449.66H519.5M514.3 452.71H519.5M514.3 455.77H519.5M514.3 458.83H519.5M514.3 461.89H519.5M514.3 464.95H519.5M514.3 468H519.5M514.3 471.06H519.5M514.3 474.12H519.5M514.3 431.31V474.12M519.5 431.31V474.12" stroke="#b5b5b5" stroke-width="0.33" fill="none"/>
<text class="rl" transform="translate(524 35.73) scale(0.1)">617_1445</text>
<text class="rl" transform="translate(524 40.94) scale(0.1)">82_1770</text>
<text class="rl" transform="translate(524 43.99) scale(0.1)">828_8</text>
<text class="rl" transform="translate(524 47.05) scale(0.1)">187_</text>
<text class="rl" transform="translate(524 50.11) scale(0.1)">207_97</text>
<text class="rl" transform="translate(524 53.17) scale(0.1)">742_1770</text>
<text class="rl" transform="translate(524 56.23) scale(0.1)">601_</text>
<text class="rl" transform="translate(524 59.29) scale(0.1)">74_1748</text>
<text class="rl" transform="translate(524 62.34) scale(0.1)">863_1438</text>
<text class="rl" transform="translate(524 65.4) scale(0.1)">371_1437</text>
<text class="rl" transform="translate(524 68.46) scale(0.1)">857_1777</text>
<text class="rl" transform="translate(524 73.67) scale(0.1)">491_1774</text>
<text class="rl" transform="translate(524 78.87) scale(0.1)">885_1772</text>
<text class="rl" transform="translate(524 81.93) scale(0.1)">179_1746</text>
<text class="rl" transform="translate(524 84.99) scale(0.1)">861_1780</text>
<text class="rl" transform="translate(524 88.05) scale(0.1)">112_1438</text>
<text class="rl" transform="translate(524 91.11) scale(0.1)">788_1776</text>
<text class="rl" transform="translate(524 94.16) scale(0.1)">397_1756</text>
<text class="rl" transform="translate(524 97.22) scale(0.1)">577_1758</text>
<text class="rl" transform="translate(524 100.28) scale(0.1)">419_1742</text>
<text class="rl" transform="translate(524 103.34) scale(0.1)">569_1774</text>
<text class="rl" transform="translate(524 106.4) scale(0.1)">4681_1741</text>
<text class="rl" transform="translate(524 109.45) scale(0.1)">4_1774</text>
<text class="rl" transform="translate(524 112.51) scale(0.1)">636_1766</text>
<text class="rl" transform="translate(524 115.57) scale(0.1)">939_1444</text>
<text class="rl" transform="translate(524 118.63) scale(0.1)">56_1763</text>
<text class="rl" transform="translate(524 121.69) scale(0.1)">60_1770</text>
<text class="rl" transform="translate(524 124.74) scale(0.1)">8_1761</text>
<text class="rl" transform="translate(524 127.8) scale(0.1)">452_97</text>
<text class="rl" transform="translate(524 130.86) scale(0.1)">10_1482</text>
<text class="rl" transform="translate(524 133.92) scale(0.1)">25_1764</text>
<text class="rl" transform="translate(524 139.13) scale(0.1)">5_1766</text>
<text class="rl" transform="translate(524 142.18) scale(0.1)">990_1440</text>
<text class="rl" transform="translate(524 145.24) scale(0.1)">5_1779</text>
<text class="rl" transform="translate(524 148.3) scale(0.1)">777_1762</text>
<text class="rl" transform="translate(524 151.36) scale(0.1)">372_672</text>
<text class="rl" transform="translate(524 154.42) scale(0.1)">482_672</text>
<text class="rl" transform="translate(524 157.47) scale(0.1)">90_1761</text>
<text class="rl" transform="translate(524 160.53) scale(0.1)">9_535</text>
<text class="rl" transform="translate(524 163.59) scale(0.1)">849_1759</text>
<text class="rl" transform="translate(524 166.65) scale(0.1)">92_1762</text>
<text class="rl" transform="translate(524 169.71) scale(0.1)">9_1445</text>
<text class="rl" transform="translate(524 172.76) scale(0.1)">388_1778</text>
<text class="rl" transform="translate(524 175.82) scale(0.1)">93_1766</text>
<text class="rl" transform="translate(524 178.88) scale(0.1)">594_1743</text>
<text class="rl" transform="translate(524 181.94) scale(0.1)">758_965</text>
<text class="rl" transform="translate(524 185) scale(0.1)">931_1775</text>
<text class="rl" transform="translate(524 188.05) scale(0.1)">440_1769</text>
<text class="rl" transform="translate(524 191.11) scale(0.1)">349_1742</text>
<text class="rl" transform="translate(524 194.17) scale(0.1)">426_1437</text>
<text class="rl" transform="translate(524 197.23) scale(0.1)">35_1770</text>
<text class="rl" transform="translate(524 200.29) scale(0.1)">523_1767</text>
<text class="rl" transform="translate(524 203.34) scale(0.1)">870_1779</text>
<text class="rl" transform="translate(524 206.4) scale(0.1)">468_1445</text>
<text class="rl" transform="translate(524 209.46) scale(0.1)">909_535</text>
<text class="rl" transform="translate(524 212.52) scale(0.1)">59_1761</text>
<text class="rl" transform="translate(524 215.58) scale(0.1)">419_1770</text>
<text class="rl" transform="translate(524 218.63) scale(0.1)">882_1438</text>
<text class="rl" transform="translate(524 221.69) scale(0.1)">174_1761</text>
<text class="rl" transform="translate(524 224.75) scale(0.1)">9_5</text>
<text class="rl" transform="translate(524 227.81) scale(0.1)">211_1763</text>
<text class="rl" transform="translate(524 230.87) scale(0.1)">798_1776</text>
<text class="rl" transform="translate(524 233.92) scale(0.1)">92_5</text>
<text class="rl" transform="translate(524 236.98) scale(0.1)">10_1445</text>
<text class="rl" transform="translate(524 240.04) scale(0.1)">5_1445</text>
<text class="rl" transform="translate(524 243.1) scale(0.1)">547_1780</text>
<text class="rl" transform="translate(524 246.16) scale(0.1)">407_1767</text>
<text class="rl" transform="translate(524 249.21) scale(0.1)">367_1763</text>
<text class="rl" transform="translate(524 252.27) scale(0.1)">650_1778</text>
<text class="rl" transform="translate(524 255.33) scale(0.1)">423_1777</text>
<text class="rl" transform="translate(524 258.39) scale(0.1)">638_1437</text>
<text class="rl" transform="translate(524 261.45) scale(0.1)">521_1756</text>
<text class="rl" transform="translate(524 264.5) scale(0.1)">298_1775</text>
<text class="rl" transform="translate(524 267.56) scale(0.1)">183_1766</text>
<text class="rl" transform="translate(524 270.62) scale(0.1)">479_1763</text>
<text class="rl" transform="translate(524 273.68) scale(0.1)">835_1759</text>
<text class="rl" transform="translate(524 276.74) scale(0.1)">106_1762</text>
<text class="rl" transform="translate(524 279.8) scale(0.1)">310_1775</text>
<text class="rl" transform="translate(524 282.85) scale(0.1)">939_1764</text>
<text class="rl" transform="translate(524 285.91) scale(0.1)">878_1762</text>
<text class="rl" transform="translate(524 288.97) scale(0.1)">724_1545</text>
<text class="rl" transform="translate(524 292.03) scale(0.1)">781_1779</text>
<text class="rl" transform="translate(524 295.09) scale(0.1)">502_1779</text>
<text class="rl" transform="translate(524 298.14) scale(0.1)">2162_1759</text>
<text class="rl" transform="translate(524 301.2) scale(0.1)">502_1769</text>
<text class="rl" transform="translate(524 304.26) scale(0.1)">24_1742</text>
<text class="rl" transform="translate(524 307.32) scale(0.1)">289_1777</text>
<text class="rl" transform="translate(524 310.38) scale(0.1)">14_1778</text>
<text class="rl" transform="translate(524 313.43) scale(0.1)">482_1685</text>
<text class="rl" transform="translate(524 316.49) scale(0.1)">180_1741</text>
<text class="rl" transform="translate(524 319.55) scale(0.1)">226_1743</text>
<text class="rl" transform="translate(524 322.61) scale(0.1)">465_1778</text>
<text class="rl" transform="translate(524 325.66) scale(0.1)">150_1756</text>
<text class="rl" transform="translate(524 328.72) scale(0.1)">557_1764</text>
<text class="rl" transform="translate(524 331.78) scale(0.1)">70_1770</text>
<text class="rl" transform="translate(524 334.84) scale(0.1)">740_</text>
<text class="rl" transform="translate(524 337.9) scale(0.1)">164_1779</text>
<text class="rl" transform="translate(524 340.95) scale(0.1)">87_1685</text>
<text class="rl" transform="translate(524 344.01) scale(0.1)">731_1772</text>
<text class="rl" transform="translate(524 347.07) scale(0.1)">424_1741</text>
<text class="rl" transform="translate(524 350.13) scale(0.1)">86_1444</text>
<text class="rl" transform="translate(524 353.19) scale(0.1)">945_1763</text>
<text class="rl" transform="translate(524 356.25) scale(0.1)">576_97</text>
<text class="rl" transform="translate(524 359.3) scale(0.1)">8_1445</text>
<text class="rl" transform="translate(524 362.36) scale(0.1)">921_1778</text>
<text class="rl" transform="translate(524 365.42) scale(0.1)">87_1437</text>
<text class="rl" transform="translate(524 368.48) scale(0.1)">470_1746</text>
<text class="rl" transform="translate(524 371.53) scale(0.1)">870_965</text>
<text class="rl" transform="translate(524 374.59) scale(0.1)">134_1438</text>
<text class="rl" transform="translate(524 377.65) scale(0.1)">536_1776</text>
<text class="rl" transform="translate(524 380.71) scale(0.1)">186_535</text>
<text class="rl" transform="translate(524 383.77) scale(0.1)">826_1769</text>
<text class="rl" transform="translate(524 386.82) scale(0.1)">571_1760</text>
<text class="rl" transform="translate(524 389.88) scale(0.1)">651_1439</text>
<text class="rl" transform="translate(524 392.94) scale(0.1)">47_1762</text>
<text class="rl" transform="translate(524 396) scale(0.1)">360_1766</text>
<text class="rl" transform="translate(524 399.06) scale(0.1)">351_1437</text>
<text class="rl" transform="translate(524 402.12) scale(0.1)">84_1764</text>
<text class="rl" transform="translate(524 405.17) scale(0.1)">351_1771</text>
<text class="rl" transform="translate(524 408.23) scale(0.1)">202_1777</text>
<text class="rl" transform="translate(524 411.29) scale(0.1)">104_1438</text>
<text class="rl" transform="translate(524 414.35) scale(0.1)">559_</text>
<text class="rl" transform="translate(524 417.4) scale(0.1)">222_1779</text>
<text class="rl" transform="translate(524 420.46) scale(0.1)">5777_1764</text>
<text class="rl" transform="translate(524 423.52) scale(0.1)">986_1545</text>
<text class="rl" transform="translate(524 428.73) scale(0.1)">896_1439</text>
<text class="rl" transform="translate(524 433.94) scale(0.1)">710_1756</text>
<text class="rl" transform="translate(524 437) scale(0.1)">477_1685</text>
<text class="rl" transform="translate(524 440.05) scale(0.1)">361_1772</text>
<text class="rl" transform="translate(524 443.11) scale(0.1)">308_1497</text>
<text class="rl" transform="translate(524 446.17) scale(0.1)">480_1545</text>
<text class="rl" transform="translate(524 449.23) scale(0.1)">132_1775</text>
<text class="rl" transform="translate(524 452.29) scale(0.1)">203_1761</text>
<text class="rl" transform="translate(524 455.34) scale(0.1)">646_1742</text>
<text class="rl" transform="translate(524 458.4) scale(0.1)">377_1759</text>
<text class="rl" transform="translate(524 461.46) scale(0.1)">527_1779</text>
<text class="rl" transform="translate(524 464.52) scale(0.1)">465_1759</text>
<text class="rl" transform="translate(524 467.57) scale(0.1)">56_1777</text>
<text class="rl" transform="translate(524 470.63) scale(0.1)">36_1497</text>
<text class="rl" transform="translate(524 473.69) scale(0.1)">216_1742</text>
<text class="hd" transform="translate(162.2 31) scale(0.1)">GCC</text>
<text class="hd" transform="translate(174.4 31) scale(0.1)">Isolate ST</text>
<text class="hd" transform="translate(511.6 31) scale(0.1)">GCC</text>
<text class="hd" transform="translate(523.8 31) scale(0.1)">Isolate ST</text>
<rect x="102" y="476.9" width="5.1" height="2.9" fill="#cecee5"/>
<rect x="107.1" y="476.9" width="5.1" height="2.9" fill="#e5e4f0"/>
<rect x="112.2" y="476.9" width="5.1" height="2.9" fill="#fbfafd"/>
<rect x="117.3" y="476.9" width="5.1" height="2.9" fill="#fbfafd"/>
<rect x="122.4" y="476.9" width="5.1" height="2.9" fill="#f9f8fb"/>
<rect x="127.5" y="476.9" width="5.1" height="2.9" fill="#f9f8fb"/>
<rect x="134.65" y="476.9" width="5.1" height="2.9" fill="#593194"/>
<rect x="139.75" y="476.9" width="5.1" height="2.9" fill="#4e1b89"/>
<rect x="144.85" y="476.9" width="5.1" height="2.9" fill="#d3d4e8"/>
<rect x="149.95" y="476.9" width="5.1" height="2.9" fill="#b5b4d7"/>
<rect x="155.05" y="476.9" width="5.1" height="2.9" fill="#b5b4d7"/>
<path d="M102 476.9V479.8M107.1 476.9V479.8M112.2 476.9V479.8M117.3 476.9V479.8M122.4 476.9V479.8M127.5 476.9V479.8M132.6 476.9V479.8M102 476.9H132.6M102 479.8H132.6M134.65 476.9V479.8M139.75 476.9V479.8M144.85 476.9V479.8M149.95 476.9V479.8M155.05 476.9V479.8M160.15 476.9V479.8M134.65 476.9H160.15M134.65 479.8H160.15" stroke="#a6a6a6" stroke-width="0.33" fill="none"/>
<rect x="246.7" y="476.9" width="5.12" height="2.9" fill="#e2f4dd"/>
<rect x="251.82" y="476.9" width="5.12" height="2.9" fill="#e2f4dd"/>
<rect x="256.94" y="476.9" width="5.12" height="2.9" fill="#e2f4dd"/>
<rect x="262.06" y="476.9" width="5.12" height="2.9" fill="#e6f5e1"/>
<rect x="267.19" y="476.9" width="5.12" height="2.9" fill="#e9f6e4"/>
<rect x="272.31" y="476.9" width="5.12" height="2.9" fill="#eff9eb"/>
<rect x="277.43" y="476.9" width="5.12" height="2.9" fill="#e9f6e4"/>
<rect x="282.55" y="476.9" width="5.12" height="2.9" fill="#eaf7e5"/>
<rect x="287.67" y="476.9" width="5.12" height="2.9" fill="#edf8e9"/>
<rect x="292.79" y="476.9" width="5.12" height="2.9" fill="#edf8e9"/>
<rect x="297.92" y="476.9" width="5.12" height="2.9" fill="#f2faef"/>
<rect x="303.04" y="476.9" width="5.12" height="2.9" fill="#eff9eb"/>
<rect x="308.16" y="476.9" width="5.12" height="2.9" fill="#f0f9ed"/>
<rect x="313.28" y="476.9" width="5.12" height="2.9" fill="#f3faf0"/>
<rect x="318.4" y="476.9" width="5.12" height="2.9" fill="#f5fbf3"/>
<rect x="323.52" y="476.9" width="5.12" height="2.9" fill="#f6fcf4"/>
<rect x="328.65" y="476.9" width="5.12" height="2.9" fill="#f6fcf4"/>
<rect x="333.77" y="476.9" width="5.12" height="2.9" fill="#f6fcf4"/>
<rect x="338.89" y="476.9" width="5.12" height="2.9" fill="#f6fcf4"/>
<rect x="344.01" y="476.9" width="5.12" height="2.9" fill="#f6fcf4"/>
<rect x="349.13" y="476.9" width="5.12" height="2.9" fill="#f4fbf1"/>
<rect x="354.25" y="476.9" width="5.12" height="2.9" fill="#f5fbf3"/>
<rect x="361.07" y="476.9" width="5.12" height="2.9" fill="#2a924a"/>
<rect x="366.19" y="476.9" width="5.12" height="2.9" fill="#0b7634"/>
<rect x="371.31" y="476.9" width="5.12" height="2.9" fill="#3ea85b"/>
<rect x="376.43" y="476.9" width="5.12" height="2.9" fill="#2a924a"/>
<rect x="381.56" y="476.9" width="5.12" height="2.9" fill="#077331"/>
<rect x="386.68" y="476.9" width="5.12" height="2.9" fill="#077331"/>
<rect x="391.8" y="476.9" width="5.12" height="2.9" fill="#005723"/>
<rect x="396.92" y="476.9" width="5.12" height="2.9" fill="#00491d"/>
<rect x="402.04" y="476.9" width="5.12" height="2.9" fill="#00461c"/>
<rect x="407.16" y="476.9" width="5.12" height="2.9" fill="#00461c"/>
<rect x="412.29" y="476.9" width="5.12" height="2.9" fill="#00441b"/>
<rect x="417.41" y="476.9" width="5.12" height="2.9" fill="#00441b"/>
<rect x="422.53" y="476.9" width="5.12" height="2.9" fill="#00441b"/>
<rect x="427.65" y="476.9" width="5.12" height="2.9" fill="#00441b"/>
<rect x="432.77" y="476.9" width="5.12" height="2.9" fill="#00441b"/>
<rect x="437.89" y="476.9" width="5.12" height="2.9" fill="#00441b"/>
<rect x="443.02" y="476.9" width="5.12" height="2.9" fill="#00441b"/>
<rect x="448.14" y="476.9" width="5.12" height="2.9" fill="#00441b"/>
<rect x="453.26" y="476.9" width="5.12" height="2.9" fill="#00441b"/>
<rect x="458.38" y="476.9" width="5.12" height="2.9" fill="#00441b"/>
<rect x="463.5" y="476.9" width="5.12" height="2.9" fill="#00461c"/>
<rect x="468.62" y="476.9" width="5.12" height="2.9" fill="#00461c"/>
<rect x="473.75" y="476.9" width="5.12" height="2.9" fill="#00461c"/>
<rect x="478.87" y="476.9" width="5.12" height="2.9" fill="#00461c"/>
<rect x="483.99" y="476.9" width="5.12" height="2.9" fill="#00461c"/>
<rect x="489.11" y="476.9" width="5.12" height="2.9" fill="#00461c"/>
<rect x="494.23" y="476.9" width="5.12" height="2.9" fill="#00461c"/>
<rect x="499.35" y="476.9" width="5.12" height="2.9" fill="#00461c"/>
<rect x="504.47" y="476.9" width="5.12" height="2.9" fill="#00461c"/>
<path d="M246.7 476.9V479.8M251.82 476.9V479.8M256.94 476.9V479.8M262.06 476.9V479.8M267.19 476.9V479.8M272.31 476.9V479.8M277.43 476.9V479.8M282.55 476.9V479.8M287.67 476.9V479.8M292.79 476.9V479.8M297.92 476.9V479.8M303.04 476.9V479.8M308.16 476.9V479.8M313.28 476.9V479.8M318.4 476.9V479.8M323.52 476.9V479.8M328.65 476.9V479.8M333.77 476.9V479.8M338.89 476.9V479.8M344.01 476.9V479.8M349.13 476.9V479.8M354.25 476.9V479.8M359.38 476.9V479.8M246.7 476.9H359.38M246.7 479.8H359.38M361.07 476.9V479.8M366.19 476.9V479.8M371.31 476.9V479.8M376.43 476.9V479.8M381.56 476.9V479.8M386.68 476.9V479.8M391.8 476.9V479.8M396.92 476.9V479.8M402.04 476.9V479.8M407.16 476.9V479.8M412.29 476.9V479.8M417.41 476.9V479.8M422.53 476.9V479.8M427.65 476.9V479.8M432.77 476.9V479.8M437.89 476.9V479.8M443.02 476.9V479.8M448.14 476.9V479.8M453.26 476.9V479.8M458.38 476.9V479.8M463.5 476.9V479.8M468.62 476.9V479.8M473.75 476.9V479.8M478.87 476.9V479.8M483.99 476.9V479.8M489.11 476.9V479.8M494.23 476.9V479.8M499.35 476.9V479.8M504.47 476.9V479.8M509.6 476.9V479.8M361.07 476.9H509.6M361.07 479.8H509.6" stroke="#a6a6a6" stroke-width="0.33" fill="none"/>
<text transform="translate(99.7 479.9) scale(0.1)" style="font-size:36px;font-weight:bold;fill:#333;text-anchor:end">sum</text>
<text class="cl" transform="translate(103.1 482.3) rotate(90) scale(0.1)">fus(B)</text>
<text class="cl" transform="translate(108.2 482.3) rotate(90) scale(0.1)">fos(D)</text>
<text class="cl" transform="translate(113.3 482.3) rotate(90) scale(0.1)">tet(S)</text>
<text class="cl" transform="translate(118.4 482.3) rotate(90) scale(0.1)">cat(pC221)</text>
<text class="cl" transform="translate(123.5 482.3) rotate(90) scale(0.1)">erm(T)</text>
<text class="cl" transform="translate(128.6 482.3) rotate(90) scale(0.1)">fex(A)</text>
<text class="cl" transform="translate(135.75 482.3) rotate(90) scale(0.1)">tet(M)</text>
<text class="cl" transform="translate(140.85 482.3) rotate(90) scale(0.1)">ant(6)-Ia</text>
<text class="cl" transform="translate(145.95 482.3) rotate(90) scale(0.1)">str(A)</text>
<text class="cl" transform="translate(151.05 482.3) rotate(90) scale(0.1)">lnu(A)</text>
<text class="cl" transform="translate(156.15 482.3) rotate(90) scale(0.1)">bla(Z)</text>
<text class="cl" transform="translate(247.81 482.3) rotate(90) scale(0.1)">cap5(or8)Ji</text>
<text class="cl" transform="translate(252.93 482.3) rotate(90) scale(0.1)">sed/selj/ser</text>
<text class="cl" transform="translate(258.05 482.3) rotate(90) scale(0.1)">tsst/sel/sek</text>
<text class="cl" transform="translate(263.18 482.3) rotate(90) scale(0.1)">seb1</text>
<text class="cl" transform="translate(268.3 482.3) rotate(90) scale(0.1)">Cfa_C-term_clfB2</text>
<text class="cl" transform="translate(273.42 482.3) rotate(90) scale(0.1)">sdrE</text>
<text class="cl" transform="translate(278.54 482.3) rotate(90) scale(0.1)">fiB</text>
<text class="cl" transform="translate(283.66 482.3) rotate(90) scale(0.1)">lukD2</text>
<text class="cl" transform="translate(288.78 482.3) rotate(90) scale(0.1)">edinB/etdB</text>
<text class="cl" transform="translate(293.91 482.3) rotate(90) scale(0.1)">splA/B/C/F1</text>
<text class="cl" transform="translate(299.03 482.3) rotate(90) scale(0.1)">sea/sek2</text>
<text class="cl" transform="translate(304.15 482.3) rotate(90) scale(0.1)">lukE1</text>
<text class="cl" transform="translate(309.27 482.3) rotate(90) scale(0.1)">chp/sc</text>
<text class="cl" transform="translate(314.39 482.3) rotate(90) scale(0.1)">eta</text>
<text class="cl" transform="translate(319.51 482.3) rotate(90) scale(0.1)">cna12</text>
<text class="cl" transform="translate(324.63 482.3) rotate(90) scale(0.1)">seg/i/m/n/o</text>
<text class="cl" transform="translate(329.76 482.3) rotate(90) scale(0.1)">lukF/S-PV</text>
<text class="cl" transform="translate(334.88 482.3) rotate(90) scale(0.1)">sdrC_2</text>
<text class="cl" transform="translate(340 482.3) rotate(90) scale(0.1)">sak1</text>
<text class="cl" transform="translate(345.12 482.3) rotate(90) scale(0.1)">scn1</text>
<text class="cl" transform="translate(350.24 482.3) rotate(90) scale(0.1)">hlgA2</text>
<text class="cl" transform="translate(355.36 482.3) rotate(90) scale(0.1)">Cterm_sasJ</text>
<text class="cl" transform="translate(362.18 482.3) rotate(90) scale(0.1)">sasG_Nterm</text>
<text class="cl" transform="translate(367.3 482.3) rotate(90) scale(0.1)">splE</text>
<text class="cl" transform="translate(372.42 482.3) rotate(90) scale(0.1)">vwb2</text>
<text class="cl" transform="translate(377.55 482.3) rotate(90) scale(0.1)">fnbB</text>
<text class="cl" transform="translate(382.67 482.3) rotate(90) scale(0.1)">sdrD2</text>
<text class="cl" transform="translate(387.79 482.3) rotate(90) scale(0.1)">isdA2</text>
<text class="cl" transform="translate(392.91 482.3) rotate(90) scale(0.1)">clfA1</text>
<text class="cl" transform="translate(398.03 482.3) rotate(90) scale(0.1)">ebpS</text>
<text class="cl" transform="translate(403.15 482.3) rotate(90) scale(0.1)">icaC</text>
<text class="cl" transform="translate(408.28 482.3) rotate(90) scale(0.1)">cap8(typ8)H</text>
<text class="cl" transform="translate(413.4 482.3) rotate(90) scale(0.1)">aur1</text>
<text class="cl" transform="translate(418.52 482.3) rotate(90) scale(0.1)">hlaB</text>
<text class="cl" transform="translate(423.64 482.3) rotate(90) scale(0.1)">bsaBs_putative_glucosyltransfer</text>
<text class="cl" transform="translate(428.76 482.3) rotate(90) scale(0.1)">bsaBs_putative_glycosyltransfer_2</text>
<text class="cl" transform="translate(433.88 482.3) rotate(90) scale(0.1)">putative_surface_anchored_protein</text>
<text class="cl" transform="translate(439 482.3) rotate(90) scale(0.1)">hldA</text>
<text class="cl" transform="translate(444.13 482.3) rotate(90) scale(0.1)">MSC_1_bbl</text>
<text class="cl" transform="translate(449.25 482.3) rotate(90) scale(0.1)">sbi2</text>
<text class="cl" transform="translate(454.37 482.3) rotate(90) scale(0.1)">hssC_homologue_coa2</text>
<text class="cl" transform="translate(459.49 482.3) rotate(90) scale(0.1)">srtA</text>
<text class="cl" transform="translate(464.61 482.3) rotate(90) scale(0.1)">isdB</text>
<text class="cl" transform="translate(469.73 482.3) rotate(90) scale(0.1)">icaA1</text>
<text class="cl" transform="translate(474.86 482.3) rotate(90) scale(0.1)">hlgB1</text>
<text class="cl" transform="translate(479.98 482.3) rotate(90) scale(0.1)">fnbA_5type12</text>
<text class="cl" transform="translate(485.1 482.3) rotate(90) scale(0.1)">hysA/hys2</text>
<text class="cl" transform="translate(490.22 482.3) rotate(90) scale(0.1)">geh1</text>
<text class="cl" transform="translate(495.34 482.3) rotate(90) scale(0.1)">lipA</text>
<text class="cl" transform="translate(500.46 482.3) rotate(90) scale(0.1)">sspA/ssp</text>
<text class="cl" transform="translate(505.59 482.3) rotate(90) scale(0.1)">eno</text>
<text class="lt" transform="translate(26.9 41.7) scale(0.1)">global clonal</text>
<text class="lt" transform="translate(26.5 50) scale(0.1)">complex</text>
<rect x="18" y="57.7" width="5.8" height="8.75" fill="#999999"/>
<text class="li" transform="translate(27.7 63.9) scale(0.1)">NA</text>
<rect x="18" y="66.45" width="5.8" height="8.75" fill="#fb0d12"/>
<text class="li" transform="translate(27.7 72.7) scale(0.1)">5</text>
<rect x="18" y="75.2" width="5.8" height="8.75" fill="#1b76ba"/>
<text class="li" transform="translate(27.7 81.5) scale(0.1)">86</text>
<rect x="18" y="83.95" width="5.8" height="8.75" fill="#fbf60a"/>
<text class="li" transform="translate(27.7 90.3) scale(0.1)">143</text>
<text class="lt" transform="translate(26.5 112.9) scale(0.1)">AMR genes</text>
<rect x="12.7" y="120.4" width="5.1" height="8.8" fill="#5010a8"/>
<rect x="12.7" y="129.4" width="5.1" height="8.8" fill="#f8f7fd"/>
<text class="li" transform="translate(22 126.8) scale(0.1)">present</text>
<text class="li" transform="translate(22 135.8) scale(0.1)">absent</text>
<text class="lt" transform="translate(25.1 160.1) scale(0.1)">virulence</text>
<text class="lt" transform="translate(24.9 169.3) scale(0.1)">factor genes</text>
<rect x="12.7" y="176.5" width="5.1" height="8.6" fill="#04761f"/>
<rect x="12.7" y="185.1" width="5.1" height="8.6" fill="#effbf0"/>
<text class="li" transform="translate(22 182.4) scale(0.1)">present</text>
<text class="li" transform="translate(22 191.7) scale(0.1)">absent</text>
<text class="lt" style="font-size:72px" transform="translate(32.2 534.7) scale(0.1)">sum of gene</text>
<text class="lt" style="font-size:72px" transform="translate(32.2 544.3) scale(0.1)">presence</text>
<rect x="66.9" y="536.9" width="8.6" height="4.8" fill="#3f007d"/>
<text class="sc" transform="translate(71.16 534.3) scale(0.1)">80</text>
<rect x="75.41" y="536.9" width="8.6" height="4.8" fill="#54278f"/>
<text class="sc" transform="translate(79.67 534.3) scale(0.1)">70</text>
<rect x="83.92" y="536.9" width="8.6" height="4.8" fill="#6a51a3"/>
<text class="sc" transform="translate(88.18 534.3) scale(0.1)">60</text>
<rect x="92.43" y="536.9" width="8.6" height="4.8" fill="#807dba"/>
<text class="sc" transform="translate(96.69 534.3) scale(0.1)">50</text>
<rect x="100.94" y="536.9" width="8.6" height="4.8" fill="#9e9ac8"/>
<text class="sc" transform="translate(105.2 534.3) scale(0.1)">40</text>
<rect x="109.45" y="536.9" width="8.6" height="4.8" fill="#bcbddc"/>
<text class="sc" transform="translate(113.71 534.3) scale(0.1)">30</text>
<rect x="117.96" y="536.9" width="8.6" height="4.8" fill="#dadaeb"/>
<text class="sc" transform="translate(122.22 534.3) scale(0.1)">20</text>
<rect x="126.47" y="536.9" width="8.6" height="4.8" fill="#efedf5"/>
<text class="sc" transform="translate(130.72 534.3) scale(0.1)">10</text>
<rect x="134.98" y="536.9" width="8.6" height="4.8" fill="#fcfbfd"/>
<text class="sc" transform="translate(139.24 534.3) scale(0.1)">0</text>
<rect x="151.2" y="536.9" width="8.7" height="4.8" fill="#00441b"/>
<rect x="159.79" y="536.9" width="8.7" height="4.8" fill="#006d2c"/>
<rect x="168.38" y="536.9" width="8.7" height="4.8" fill="#238b45"/>
<rect x="176.97" y="536.9" width="8.7" height="4.8" fill="#41ab5d"/>
<rect x="185.56" y="536.9" width="8.7" height="4.8" fill="#74c476"/>
<rect x="194.15" y="536.9" width="8.7" height="4.8" fill="#a1d99b"/>
<rect x="202.74" y="536.9" width="8.7" height="4.8" fill="#c7e9c0"/>
<rect x="211.33" y="536.9" width="8.7" height="4.8" fill="#e5f5e0"/>
<rect x="219.92" y="536.9" width="8.7" height="4.8" fill="#f7fcf5"/>
<text class="sc" transform="translate(158.9 534.3) scale(0.1)">140</text>
<text class="sc" transform="translate(168.4 534.3) scale(0.1)">120</text>
<text class="sc" transform="translate(178.2 534.3) scale(0.1)">100</text>
<text class="sc" transform="translate(185.9 534.3) scale(0.1)">80</text>
<text class="sc" transform="translate(194.1 534.3) scale(0.1)">60</text>
<text class="sc" transform="translate(202.6 534.3) scale(0.1)">40</text>
<text class="sc" transform="translate(211.3 534.3) scale(0.1)">20</text>
<text class="sc" transform="translate(223.2 534.3) scale(0.1)">0</text>
<path class="dn" d="M119.85 28.2L127.5 28.2M119.85 28.2L119.85 32.6M127.5 28.2L127.5 32.6M114.75 25.3L123.67 25.3M114.75 25.3L114.75 32.6M123.67 25.3L123.67 28.2M109.65 18.5L119.21 18.5M109.65 18.5L109.65 32.6M119.21 18.5L119.21 25.3M104.55 13L114.43 13M104.55 13L104.55 32.6M114.43 13L114.43 18.5M147.4 16.7L155.05 16.7M147.4 16.7L147.4 32.6M155.05 16.7L155.05 32.6M142.3 12.4L151.23 12.4M142.3 12.4L142.3 32.6M151.23 12.4L151.23 16.7M137.2 10.9L146.76 10.9M137.2 10.9L137.2 32.6M146.76 10.9L146.76 12.4M109.49 6.3L141.98 6.3M109.49 6.3L109.49 13M141.98 6.3L141.98 10.9M89.3 37.69L89.3 48.39M89.3 37.69L101.9 37.69M89.3 42.27L101.9 42.27M89.3 48.39L101.9 48.39M83.5 34.63L83.5 43.04M83.5 34.63L101.9 34.63M83.5 43.04L89.3 43.04M92.9 55.13L92.9 58.19M92.9 55.13L101.9 55.13M92.9 58.19L101.9 58.19M92.9 61.24L92.9 64.8M92.9 61.24L101.9 61.24M92.9 64.8L101.9 64.8M92.9 70.42L92.9 76.53M92.9 70.42L101.9 70.42M92.9 76.53L101.9 76.53M92.8 111.67L92.8 119.34M92.8 111.67L101.9 111.67M92.8 119.34L101.9 119.34M86.5 73.47L86.5 115.51M86.5 73.47L92.9 73.47M86.5 115.51L92.8 115.51M86.4 63.02L86.4 94.49M86.4 63.02L92.9 63.02M86.4 94.49L86.5 94.49M86.3 56.66L86.3 78.76M86.3 56.66L92.9 56.66M86.3 78.76L86.4 78.76M93 139.84L93 145.96M93 139.84L101.9 139.84M93 145.96L101.9 145.96M93 161.25L93 210.18M93 161.25L101.9 161.25M93 210.18L101.9 210.18M89.6 142.9L89.6 185.71M89.6 142.9L93 142.9M89.6 185.71L93 185.71M93 263.16L93 271.34M93 263.16L101.9 263.16M93 271.34L101.9 271.34M93 301.92L93 306.18M93 301.92L101.9 301.92M93 306.18L101.9 306.18M89 267.25L89 304.05M89 267.25L93 267.25M89 304.05L93 304.05M86.6 164.31L86.6 285.65M86.6 164.31L89.6 164.31M86.6 285.65L89 285.65M81.4 67.71L81.4 224.98M81.4 67.71L86.3 67.71M81.4 224.98L86.6 224.98M92.9 316.3L92.9 322.41M92.9 316.3L101.9 316.3M92.9 322.41L101.9 322.41M86.9 313.24L86.9 319.36M86.9 313.24L101.9 313.24M86.9 319.36L92.9 319.36M89.3 345.97L89.3 349.03M89.3 345.97L101.9 345.97M89.3 349.03L101.9 349.03M92.9 360.35L92.9 363.41M92.9 360.35L101.9 360.35M92.9 363.41L101.9 363.41M88.8 355.74L88.8 361.88M88.8 355.74L101.9 355.74M88.8 361.88L92.9 361.88M92.5 371.68L92.5 411.43M92.5 371.68L101.9 371.68M92.5 411.43L101.9 411.43M93 432.84L93 454.24M93 432.84L101.9 432.84M93 454.24L101.9 454.24M89.5 391.55L89.5 443.54M89.5 391.55L92.5 391.55M89.5 443.54L93 443.54M92.5 469.53L92.5 472.59M92.5 469.53L101.9 469.53M92.5 472.59L101.9 472.59M88.7 463.42L88.7 471.06M88.7 463.42L101.9 463.42M88.7 471.06L92.5 471.06M85.8 417.55L85.8 467.24M85.8 417.55L89.5 417.55M85.8 467.24L88.7 467.24M82.5 358.81L82.5 442.39M82.5 358.81L88.8 358.81M82.5 442.39L85.8 442.39M80.5 347.5L80.5 400.6M80.5 347.5L89.3 347.5M80.5 400.6L82.5 400.6M79.7 316.3L79.7 374.05M79.7 316.3L86.9 316.3M79.7 374.05L80.5 374.05M76.3 146.34L76.3 345.17M76.3 146.34L81.4 146.34M76.3 345.17L79.7 345.17M74.6 38.83L74.6 245.76M74.6 38.83L83.5 38.83M74.6 245.76L76.3 245.76M269.75 27L274.87 27M269.75 27L269.75 32.6M274.87 27L274.87 32.6M285.11 29.5L292.79 29.5M285.11 29.5L285.11 32.6M292.79 29.5L292.79 32.6M300.48 29.5L305.6 29.5M300.48 29.5L300.48 32.6M305.6 29.5L305.6 32.6M288.95 26.7L303.04 26.7M288.95 26.7L288.95 29.5M303.04 26.7L303.04 29.5M315.84 29.9L320.96 29.9M315.84 29.9L315.84 32.6M320.96 29.9L320.96 32.6M351.69 29.9L356.81 29.9M351.69 29.9L351.69 32.6M356.81 29.9L356.81 32.6M330.81 28.6L354.25 28.6M330.81 28.6L330.81 32.6M354.25 28.6L354.25 29.9M318.4 27L342.53 27M318.4 27L318.4 29.9M342.53 27L342.53 28.6M310.72 25.5L330.47 25.5M310.72 25.5L310.72 32.6M330.47 25.5L330.47 27M296 23.9L320.59 23.9M296 23.9L296 26.7M320.59 23.9L320.59 25.5M279.99 21.4L308.29 21.4M279.99 21.4L279.99 32.6M308.29 21.4L308.29 23.9M272.31 20.4L294.14 20.4M272.31 20.4L272.31 27M294.14 20.4L294.14 21.4M264.63 19.8L283.23 19.8M264.63 19.8L264.63 32.6M283.23 19.8L283.23 20.4M253.1 19.3L273.93 19.3M253.1 19.3L253.1 32.6M273.93 19.3L273.93 19.8M363.63 23.5L368.75 23.5M363.63 23.5L363.63 32.6M368.75 23.5L368.75 32.6M420 31.2L471.6 31.2M420 31.2L420 32.6M471.6 31.2L471.6 32.6M406.86 30.3L445.8 30.3M406.86 30.3L406.86 32.6M445.8 30.3L445.8 31.2M399.48 29.3L426.33 29.3M399.48 29.3L399.48 32.6M426.33 29.3L426.33 30.3M394.36 26.1L412.91 26.1M394.36 26.1L394.36 32.6M412.91 26.1L412.91 29.3M386.68 22.7L403.63 22.7M386.68 22.7L386.68 32.6M403.63 22.7L403.63 26.1M379 17.2L395.16 17.2M379 17.2L379 32.6M395.16 17.2L395.16 22.7M373.87 15.9L387.08 15.9M373.87 15.9L373.87 32.6M387.08 15.9L387.08 17.2M366.19 13.4L380.47 13.4M366.19 13.4L366.19 23.5M380.47 13.4L380.47 15.9M263.51 5.7L373.33 5.7M263.51 5.7L263.51 19.3M373.33 5.7L373.33 13.4M240 39.84L240 44.39M240 39.84L246.6 39.84M240 44.39L246.6 44.39M240 49.01L240 52.47M240 49.01L246.6 49.01M240 52.47L246.6 52.47M240 58.19L240 64.3M240 58.19L246.6 58.19M240 64.3L246.6 64.3M237 55.13L237 61.24M237 55.13L246.6 55.13M237 61.24L240 61.24M234 50.74L234 58.19M234 50.74L240 50.74M234 58.19L237 58.19M230 42.12L230 54.46M230 42.12L240 42.12M230 54.46L234 54.46M240 96.12L240 131.26M240 96.12L246.6 96.12M240 131.26L246.6 131.26M238.6 86.95L238.6 113.69M238.6 86.95L246.6 86.95M238.6 90.01L246.6 90.01M238.6 113.69L240 113.69M233 80.83L233 100.32M233 80.83L246.6 80.83M233 100.32L238.6 100.32M240.5 142.08L240.5 150.26M240.5 142.08L246.6 142.08M240.5 150.26L246.6 150.26M241 160.93L241 168.61M241 160.93L246.6 160.93M241 168.61L246.6 168.61M237.3 138.03L237.3 164.77M237.3 138.03L246.6 138.03M237.3 146.17L240.5 146.17M237.3 154.82L246.6 154.82M237.3 164.77L241 164.77M240 211.42L240 281.75M240 211.42L246.6 211.42M240 281.75L246.6 281.75M238 205.3L238 246.59M238 205.3L246.6 205.3M238 246.59L240 246.59M232.4 151.4L232.4 225.94M232.4 151.4L237.3 151.4M232.4 225.94L238 225.94M240.8 306.22L240.8 312.33M240.8 306.22L246.6 306.22M240.8 312.33L246.6 312.33M240.8 355.14L240.8 362.76M240.8 355.14L246.6 355.14M240.8 362.76L246.6 362.76M236.5 309.27L236.5 358.95M236.5 309.27L240.8 309.27M236.5 358.95L240.8 358.95M240.5 373.49L240.5 397.96M240.5 373.49L246.6 373.49M240.5 397.96L246.6 397.96M238.4 367.38L238.4 385.72M238.4 367.38L246.6 367.38M238.4 385.72L240.5 385.72M240.8 404.07L240.8 407.13M240.8 404.07L246.6 404.07M240.8 407.13L246.6 407.13M239.5 410.19L239.5 413.25M239.5 410.19L246.6 410.19M239.5 413.25L246.6 413.25M241 416.3L241 419.36M241 416.3L246.6 416.3M241 419.36L246.6 419.36M236.9 405.6L236.9 422.42M236.9 405.6L240.8 405.6M236.9 411.72L239.5 411.72M236.9 417.83L241 417.83M236.9 422.42L246.6 422.42M231.8 376.55L231.8 414.01M231.8 376.55L238.4 376.55M231.8 414.01L236.9 414.01M229.5 334.11L229.5 395.28M229.5 334.11L236.5 334.11M229.5 395.28L231.8 395.28M227.6 188.67L227.6 364.7M227.6 188.67L232.4 188.67M227.6 364.7L229.5 364.7M240.8 454.24L240.8 460.36M240.8 454.24L246.6 454.24M240.8 460.36L246.6 460.36M236.5 442.01L236.5 457.3M236.5 442.01L246.6 442.01M236.5 457.3L240.8 457.3M234.6 466.48L234.6 472.59M234.6 466.48L246.6 466.48M234.6 469.53L246.6 469.53M234.6 472.59L246.6 472.59M231.8 449.66L231.8 469.53M231.8 449.66L236.5 449.66M231.8 469.53L234.6 469.53M227.1 427.63L227.1 459.59M227.1 427.63L246.6 427.63M227.1 459.59L231.8 459.59M226.2 276.68L226.2 443.61M226.2 276.68L227.6 276.68M226.2 443.61L227.1 443.61M228 90.58L228 360.15M228 90.58L233 90.58M228 360.15L226.2 360.15M225.4 72.57L225.4 225.36M225.4 72.57L246.6 72.57M225.4 225.36L228 225.36M222.6 48.29L222.6 148.96M222.6 48.29L230 48.29M222.6 148.96L225.4 148.96M220 34.63L220 98.63M220 34.63L246.6 34.63M220 98.63L222.6 98.63"/>
</svg>
</body></html>
